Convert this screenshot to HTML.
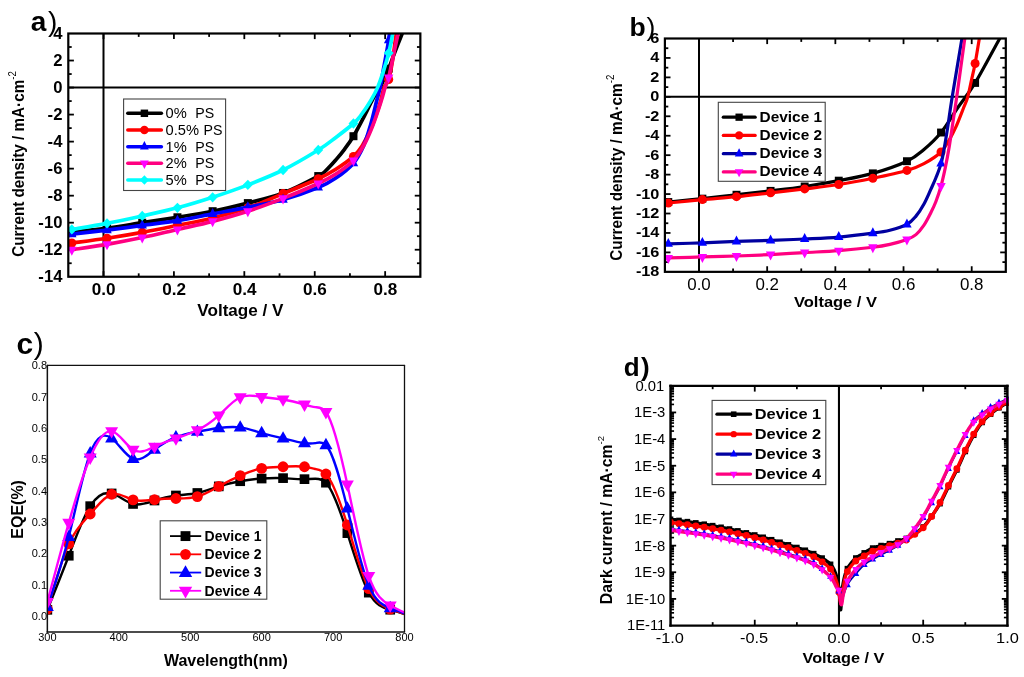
<!DOCTYPE html>
<html lang="en"><head><meta charset="utf-8"><title>Figure</title>
<style>html,body{margin:0;padding:0;background:#fff}body{width:1024px;height:677px;overflow:hidden}svg{display:block}text{font-family:"Liberation Sans",Arial,sans-serif}</style>
</head><body>
<svg width="1024" height="677" viewBox="0 0 1024 677" font-family='"Liberation Sans", Arial, sans-serif'>
<rect width="1024" height="677" fill="#fff"/>
<clipPath id="ca"><rect x="68.30" y="33.50" width="352.05" height="243.25"/></clipPath>
<line x1="103.50" y1="33.50" x2="103.50" y2="276.75" stroke="#000" stroke-width="2.0" stroke-linecap="butt"/>
<line x1="68.30" y1="87.56" x2="420.35" y2="87.56" stroke="#000" stroke-width="2.0" stroke-linecap="butt"/>
<line x1="103.50" y1="276.75" x2="103.50" y2="271.15" stroke="#000" stroke-width="1.8" stroke-linecap="butt"/>
<line x1="103.50" y1="33.50" x2="103.50" y2="39.10" stroke="#000" stroke-width="1.8" stroke-linecap="butt"/>
<line x1="138.71" y1="276.75" x2="138.71" y2="273.35" stroke="#000" stroke-width="1.8" stroke-linecap="butt"/>
<line x1="138.71" y1="33.50" x2="138.71" y2="36.90" stroke="#000" stroke-width="1.8" stroke-linecap="butt"/>
<line x1="173.92" y1="276.75" x2="173.92" y2="271.15" stroke="#000" stroke-width="1.8" stroke-linecap="butt"/>
<line x1="173.92" y1="33.50" x2="173.92" y2="39.10" stroke="#000" stroke-width="1.8" stroke-linecap="butt"/>
<line x1="209.12" y1="276.75" x2="209.12" y2="273.35" stroke="#000" stroke-width="1.8" stroke-linecap="butt"/>
<line x1="209.12" y1="33.50" x2="209.12" y2="36.90" stroke="#000" stroke-width="1.8" stroke-linecap="butt"/>
<line x1="244.32" y1="276.75" x2="244.32" y2="271.15" stroke="#000" stroke-width="1.8" stroke-linecap="butt"/>
<line x1="244.32" y1="33.50" x2="244.32" y2="39.10" stroke="#000" stroke-width="1.8" stroke-linecap="butt"/>
<line x1="279.53" y1="276.75" x2="279.53" y2="273.35" stroke="#000" stroke-width="1.8" stroke-linecap="butt"/>
<line x1="279.53" y1="33.50" x2="279.53" y2="36.90" stroke="#000" stroke-width="1.8" stroke-linecap="butt"/>
<line x1="314.74" y1="276.75" x2="314.74" y2="271.15" stroke="#000" stroke-width="1.8" stroke-linecap="butt"/>
<line x1="314.74" y1="33.50" x2="314.74" y2="39.10" stroke="#000" stroke-width="1.8" stroke-linecap="butt"/>
<line x1="349.94" y1="276.75" x2="349.94" y2="273.35" stroke="#000" stroke-width="1.8" stroke-linecap="butt"/>
<line x1="349.94" y1="33.50" x2="349.94" y2="36.90" stroke="#000" stroke-width="1.8" stroke-linecap="butt"/>
<line x1="385.15" y1="276.75" x2="385.15" y2="271.15" stroke="#000" stroke-width="1.8" stroke-linecap="butt"/>
<line x1="385.15" y1="33.50" x2="385.15" y2="39.10" stroke="#000" stroke-width="1.8" stroke-linecap="butt"/>
<line x1="68.30" y1="47.01" x2="71.70" y2="47.01" stroke="#000" stroke-width="1.8" stroke-linecap="butt"/>
<line x1="420.35" y1="47.01" x2="416.95" y2="47.01" stroke="#000" stroke-width="1.8" stroke-linecap="butt"/>
<line x1="68.30" y1="60.53" x2="73.90" y2="60.53" stroke="#000" stroke-width="1.8" stroke-linecap="butt"/>
<line x1="420.35" y1="60.53" x2="414.75" y2="60.53" stroke="#000" stroke-width="1.8" stroke-linecap="butt"/>
<line x1="68.30" y1="74.04" x2="71.70" y2="74.04" stroke="#000" stroke-width="1.8" stroke-linecap="butt"/>
<line x1="420.35" y1="74.04" x2="416.95" y2="74.04" stroke="#000" stroke-width="1.8" stroke-linecap="butt"/>
<line x1="68.30" y1="87.56" x2="73.90" y2="87.56" stroke="#000" stroke-width="1.8" stroke-linecap="butt"/>
<line x1="420.35" y1="87.56" x2="414.75" y2="87.56" stroke="#000" stroke-width="1.8" stroke-linecap="butt"/>
<line x1="68.30" y1="101.07" x2="71.70" y2="101.07" stroke="#000" stroke-width="1.8" stroke-linecap="butt"/>
<line x1="420.35" y1="101.07" x2="416.95" y2="101.07" stroke="#000" stroke-width="1.8" stroke-linecap="butt"/>
<line x1="68.30" y1="114.58" x2="73.90" y2="114.58" stroke="#000" stroke-width="1.8" stroke-linecap="butt"/>
<line x1="420.35" y1="114.58" x2="414.75" y2="114.58" stroke="#000" stroke-width="1.8" stroke-linecap="butt"/>
<line x1="68.30" y1="128.10" x2="71.70" y2="128.10" stroke="#000" stroke-width="1.8" stroke-linecap="butt"/>
<line x1="420.35" y1="128.10" x2="416.95" y2="128.10" stroke="#000" stroke-width="1.8" stroke-linecap="butt"/>
<line x1="68.30" y1="141.61" x2="73.90" y2="141.61" stroke="#000" stroke-width="1.8" stroke-linecap="butt"/>
<line x1="420.35" y1="141.61" x2="414.75" y2="141.61" stroke="#000" stroke-width="1.8" stroke-linecap="butt"/>
<line x1="68.30" y1="155.12" x2="71.70" y2="155.12" stroke="#000" stroke-width="1.8" stroke-linecap="butt"/>
<line x1="420.35" y1="155.12" x2="416.95" y2="155.12" stroke="#000" stroke-width="1.8" stroke-linecap="butt"/>
<line x1="68.30" y1="168.64" x2="73.90" y2="168.64" stroke="#000" stroke-width="1.8" stroke-linecap="butt"/>
<line x1="420.35" y1="168.64" x2="414.75" y2="168.64" stroke="#000" stroke-width="1.8" stroke-linecap="butt"/>
<line x1="68.30" y1="182.15" x2="71.70" y2="182.15" stroke="#000" stroke-width="1.8" stroke-linecap="butt"/>
<line x1="420.35" y1="182.15" x2="416.95" y2="182.15" stroke="#000" stroke-width="1.8" stroke-linecap="butt"/>
<line x1="68.30" y1="195.67" x2="73.90" y2="195.67" stroke="#000" stroke-width="1.8" stroke-linecap="butt"/>
<line x1="420.35" y1="195.67" x2="414.75" y2="195.67" stroke="#000" stroke-width="1.8" stroke-linecap="butt"/>
<line x1="68.30" y1="209.18" x2="71.70" y2="209.18" stroke="#000" stroke-width="1.8" stroke-linecap="butt"/>
<line x1="420.35" y1="209.18" x2="416.95" y2="209.18" stroke="#000" stroke-width="1.8" stroke-linecap="butt"/>
<line x1="68.30" y1="222.69" x2="73.90" y2="222.69" stroke="#000" stroke-width="1.8" stroke-linecap="butt"/>
<line x1="420.35" y1="222.69" x2="414.75" y2="222.69" stroke="#000" stroke-width="1.8" stroke-linecap="butt"/>
<line x1="68.30" y1="236.21" x2="71.70" y2="236.21" stroke="#000" stroke-width="1.8" stroke-linecap="butt"/>
<line x1="420.35" y1="236.21" x2="416.95" y2="236.21" stroke="#000" stroke-width="1.8" stroke-linecap="butt"/>
<line x1="68.30" y1="249.72" x2="73.90" y2="249.72" stroke="#000" stroke-width="1.8" stroke-linecap="butt"/>
<line x1="420.35" y1="249.72" x2="414.75" y2="249.72" stroke="#000" stroke-width="1.8" stroke-linecap="butt"/>
<line x1="68.30" y1="263.24" x2="71.70" y2="263.24" stroke="#000" stroke-width="1.8" stroke-linecap="butt"/>
<line x1="420.35" y1="263.24" x2="416.95" y2="263.24" stroke="#000" stroke-width="1.8" stroke-linecap="butt"/>
<g clip-path="url(#ca)">
<path d="M71.82,232.15 C77.69,231.48 95.29,229.68 107.03,228.10 C118.76,226.52 130.50,224.50 142.23,222.69 C153.97,220.89 165.70,219.20 177.44,217.29 C189.17,215.37 200.91,213.57 212.64,211.21 C224.38,208.84 236.11,206.14 247.85,203.10 C259.58,200.06 271.32,197.47 283.05,192.96 C294.79,188.46 310.92,180.01 318.26,176.07 C325.59,172.13 324.12,172.02 327.06,169.31 C329.99,166.61 332.92,163.23 335.86,159.85 C338.79,156.48 341.73,152.99 344.66,149.04 C347.59,145.10 350.29,141.50 353.46,136.21 C356.63,130.91 360.38,123.59 363.67,117.29 C366.96,110.98 370.42,103.39 373.18,98.37 C375.93,93.34 377.63,92.11 380.22,87.15 C382.80,82.20 386.32,74.24 388.67,68.64 C391.01,63.03 392.13,59.15 394.30,53.50 C396.47,47.85 399.70,39.85 401.69,34.72 C403.69,29.58 405.51,24.69 406.27,22.69" fill="none" stroke="#000000" stroke-width="3.7" stroke-linejoin="round" stroke-linecap="round"/>
<rect x="67.82" y="228.16" width="8.00" height="8.00" fill="#000000"/>
<rect x="103.03" y="224.10" width="8.00" height="8.00" fill="#000000"/>
<rect x="138.23" y="218.70" width="8.00" height="8.00" fill="#000000"/>
<rect x="173.44" y="213.29" width="8.00" height="8.00" fill="#000000"/>
<rect x="208.64" y="207.21" width="8.00" height="8.00" fill="#000000"/>
<rect x="243.85" y="199.10" width="8.00" height="8.00" fill="#000000"/>
<rect x="279.05" y="188.96" width="8.00" height="8.00" fill="#000000"/>
<rect x="314.26" y="172.07" width="8.00" height="8.00" fill="#000000"/>
<rect x="349.46" y="132.21" width="8.00" height="8.00" fill="#000000"/>
<rect x="384.67" y="64.64" width="8.00" height="8.00" fill="#000000"/>
<path d="M71.82,242.97 C77.69,242.18 95.29,239.99 107.03,238.24 C118.76,236.48 130.50,234.56 142.23,232.42 C153.97,230.28 165.70,227.81 177.44,225.40 C189.17,222.99 200.91,220.89 212.64,217.96 C224.38,215.04 236.11,211.88 247.85,207.83 C259.58,203.78 271.32,198.48 283.05,193.64 C294.79,188.80 309.45,182.83 318.26,178.77 C327.06,174.72 329.99,173.03 335.86,169.31 C341.73,165.60 349.06,160.42 353.46,156.48 C357.86,152.53 359.21,150.62 362.26,145.67 C365.31,140.71 368.83,133.73 371.77,126.75 C374.70,119.76 377.81,110.30 379.86,103.77 C381.92,97.24 382.62,91.61 384.09,87.56 C385.56,83.50 387.26,83.95 388.67,79.45 C390.07,74.94 391.31,67.98 392.54,60.53 C393.77,53.07 395.18,41.02 396.06,34.72 C396.94,28.41 397.53,24.69 397.82,22.69" fill="none" stroke="#ff0000" stroke-width="3.7" stroke-linejoin="round" stroke-linecap="round"/>
<circle cx="71.82" cy="242.97" r="4.56" fill="#ff0000"/>
<circle cx="107.03" cy="238.24" r="4.56" fill="#ff0000"/>
<circle cx="142.23" cy="232.42" r="4.56" fill="#ff0000"/>
<circle cx="177.44" cy="225.40" r="4.56" fill="#ff0000"/>
<circle cx="212.64" cy="217.96" r="4.56" fill="#ff0000"/>
<circle cx="247.85" cy="207.83" r="4.56" fill="#ff0000"/>
<circle cx="283.05" cy="193.64" r="4.56" fill="#ff0000"/>
<circle cx="318.26" cy="178.77" r="4.56" fill="#ff0000"/>
<circle cx="353.46" cy="156.48" r="4.56" fill="#ff0000"/>
<circle cx="388.67" cy="79.45" r="4.56" fill="#ff0000"/>
<path d="M71.82,234.18 C77.69,233.51 95.29,231.59 107.03,230.13 C118.76,228.66 130.50,226.97 142.23,225.40 C153.97,223.82 165.70,222.58 177.44,220.67 C189.17,218.75 200.91,216.16 212.64,213.91 C224.38,211.66 236.11,209.52 247.85,207.15 C259.58,204.79 271.32,202.99 283.05,199.72 C294.79,196.45 309.45,191.16 318.26,187.56 C327.06,183.95 329.99,182.15 335.86,178.10 C341.73,174.04 348.83,168.64 353.46,163.23 C358.10,157.83 360.79,152.13 363.67,145.67 C366.55,139.20 368.54,131.93 370.71,124.45 C372.88,116.97 375.11,107.02 376.70,100.80 C378.28,94.58 379.04,92.67 380.22,87.15 C381.39,81.63 382.33,75.51 383.74,67.69 C385.14,59.87 387.55,47.76 388.67,40.26 C389.78,32.76 390.13,25.62 390.43,22.69" fill="none" stroke="#0000ff" stroke-width="3.7" stroke-linejoin="round" stroke-linecap="round"/>
<path d="M71.82,228.16 L76.55,237.19 L67.09,237.19Z" fill="#0000ff"/>
<path d="M107.03,224.11 L111.76,233.14 L102.30,233.14Z" fill="#0000ff"/>
<path d="M142.23,219.38 L146.96,228.41 L137.50,228.41Z" fill="#0000ff"/>
<path d="M177.44,214.65 L182.17,223.68 L172.71,223.68Z" fill="#0000ff"/>
<path d="M212.64,207.89 L217.37,216.92 L207.91,216.92Z" fill="#0000ff"/>
<path d="M247.85,201.13 L252.58,210.16 L243.12,210.16Z" fill="#0000ff"/>
<path d="M283.05,193.70 L287.78,202.73 L278.32,202.73Z" fill="#0000ff"/>
<path d="M318.26,181.54 L322.99,190.57 L313.53,190.57Z" fill="#0000ff"/>
<path d="M353.46,157.21 L358.19,166.24 L348.73,166.24Z" fill="#0000ff"/>
<path d="M388.67,34.24 L393.40,43.27 L383.94,43.27Z" fill="#0000ff"/>
<path d="M71.82,249.72 C77.69,248.82 95.29,246.34 107.03,244.32 C118.76,242.29 130.50,240.04 142.23,237.56 C153.97,235.08 165.70,232.15 177.44,229.45 C189.17,226.75 200.91,224.38 212.64,221.34 C224.38,218.30 236.11,215.04 247.85,211.21 C259.58,207.38 271.32,202.99 283.05,198.37 C294.79,193.75 309.45,187.56 318.26,183.50 C327.06,179.45 329.99,177.87 335.86,174.04 C341.73,170.22 348.83,165.26 353.46,160.53 C358.10,155.80 360.38,151.68 363.67,145.67 C366.96,139.65 370.24,131.93 373.18,124.45 C376.11,116.97 379.28,107.02 381.27,100.80 C383.27,94.58 383.91,91.05 385.15,87.15 C386.38,83.25 387.14,83.41 388.67,77.42 C390.19,71.43 392.77,58.32 394.30,51.20 C395.82,44.09 396.82,39.47 397.82,34.72 C398.82,29.96 399.87,24.69 400.28,22.69" fill="none" stroke="#ff0080" stroke-width="3.7" stroke-linejoin="round" stroke-linecap="round"/>
<path d="M71.82,255.74 L76.55,246.71 L67.09,246.71Z" fill="#ff00ff"/>
<path d="M107.03,250.34 L111.76,241.31 L102.30,241.31Z" fill="#ff00ff"/>
<path d="M142.23,243.58 L146.96,234.55 L137.50,234.55Z" fill="#ff00ff"/>
<path d="M177.44,235.47 L182.17,226.44 L172.71,226.44Z" fill="#ff00ff"/>
<path d="M212.64,227.36 L217.37,218.33 L207.91,218.33Z" fill="#ff00ff"/>
<path d="M247.85,217.23 L252.58,208.20 L243.12,208.20Z" fill="#ff00ff"/>
<path d="M283.05,204.39 L287.78,195.36 L278.32,195.36Z" fill="#ff00ff"/>
<path d="M318.26,189.52 L322.99,180.49 L313.53,180.49Z" fill="#ff00ff"/>
<path d="M353.46,166.55 L358.19,157.52 L348.73,157.52Z" fill="#ff00ff"/>
<path d="M388.67,83.44 L393.40,74.41 L383.94,74.41Z" fill="#ff00ff"/>
<path d="M71.82,229.45 C77.69,228.44 95.29,225.62 107.03,223.37 C118.76,221.12 130.50,218.53 142.23,215.94 C153.97,213.35 165.70,210.94 177.44,207.83 C189.17,204.72 200.91,201.12 212.64,197.29 C224.38,193.46 236.11,189.41 247.85,184.86 C259.58,180.31 271.32,175.80 283.05,169.99 C294.79,164.18 309.45,155.42 318.26,149.99 C327.06,144.56 329.99,141.84 335.86,137.42 C341.73,133.01 349.24,127.24 353.46,123.50 C357.69,119.76 358.33,118.77 361.21,114.99 C364.08,111.20 367.95,105.44 370.71,100.80 C373.47,96.16 375.58,92.26 377.75,87.15 C379.92,82.04 381.92,75.80 383.74,70.12 C385.56,64.45 387.20,59.00 388.67,53.10 C390.13,47.19 391.60,39.78 392.54,34.72 C393.48,29.65 394.00,24.69 394.30,22.69" fill="none" stroke="#00ffff" stroke-width="3.7" stroke-linejoin="round" stroke-linecap="round"/>
<path d="M71.82,224.29 L76.77,229.45 L71.82,234.61 L66.88,229.45Z" fill="#00ffff"/>
<path d="M107.03,218.21 L111.97,223.37 L107.03,228.53 L102.08,223.37Z" fill="#00ffff"/>
<path d="M142.23,210.78 L147.18,215.94 L142.23,221.10 L137.29,215.94Z" fill="#00ffff"/>
<path d="M177.44,202.67 L182.38,207.83 L177.44,212.99 L172.49,207.83Z" fill="#00ffff"/>
<path d="M212.64,192.13 L217.59,197.29 L212.64,202.45 L207.70,197.29Z" fill="#00ffff"/>
<path d="M247.85,179.70 L252.79,184.86 L247.85,190.02 L242.90,184.86Z" fill="#00ffff"/>
<path d="M283.05,164.83 L288.00,169.99 L283.05,175.15 L278.11,169.99Z" fill="#00ffff"/>
<path d="M318.26,144.83 L323.20,149.99 L318.26,155.15 L313.31,149.99Z" fill="#00ffff"/>
<path d="M353.46,118.34 L358.41,123.50 L353.46,128.66 L348.52,123.50Z" fill="#00ffff"/>
<path d="M388.67,47.94 L393.61,53.10 L388.67,58.26 L383.72,53.10Z" fill="#00ffff"/>
</g>
<rect x="68.3" y="33.5" width="352.05" height="243.25" fill="none" stroke="#000" stroke-width="2.2"/>
<text transform="translate(62.40,38.70) scale(1.040,1.000)" font-size="16" font-weight="bold" text-anchor="end" fill="#000">4</text>
<text transform="translate(62.40,65.73) scale(1.040,1.000)" font-size="16" font-weight="bold" text-anchor="end" fill="#000">2</text>
<text transform="translate(62.40,92.76) scale(1.040,1.000)" font-size="16" font-weight="bold" text-anchor="end" fill="#000">0</text>
<text transform="translate(62.40,119.78) scale(1.040,1.000)" font-size="16" font-weight="bold" text-anchor="end" fill="#000">-2</text>
<text transform="translate(62.40,146.81) scale(1.040,1.000)" font-size="16" font-weight="bold" text-anchor="end" fill="#000">-4</text>
<text transform="translate(62.40,173.84) scale(1.040,1.000)" font-size="16" font-weight="bold" text-anchor="end" fill="#000">-6</text>
<text transform="translate(62.40,200.87) scale(1.040,1.000)" font-size="16" font-weight="bold" text-anchor="end" fill="#000">-8</text>
<text transform="translate(62.40,227.89) scale(1.040,1.000)" font-size="16" font-weight="bold" text-anchor="end" fill="#000">-10</text>
<text transform="translate(62.40,254.92) scale(1.040,1.000)" font-size="16" font-weight="bold" text-anchor="end" fill="#000">-12</text>
<text transform="translate(62.40,281.95) scale(1.040,1.000)" font-size="16" font-weight="bold" text-anchor="end" fill="#000">-14</text>
<text transform="translate(103.70,294.60) scale(1.070,1.000)" font-size="16" font-weight="bold" text-anchor="middle" fill="#000">0.0</text>
<text transform="translate(174.12,294.60) scale(1.070,1.000)" font-size="16" font-weight="bold" text-anchor="middle" fill="#000">0.2</text>
<text transform="translate(244.52,294.60) scale(1.070,1.000)" font-size="16" font-weight="bold" text-anchor="middle" fill="#000">0.4</text>
<text transform="translate(314.94,294.60) scale(1.070,1.000)" font-size="16" font-weight="bold" text-anchor="middle" fill="#000">0.6</text>
<text transform="translate(385.35,294.60) scale(1.070,1.000)" font-size="16" font-weight="bold" text-anchor="middle" fill="#000">0.8</text>
<text transform="translate(240.40,315.80) scale(1.070,1.000)" font-size="16" font-weight="bold" text-anchor="middle" fill="#000">Voltage / V</text>
<text transform="translate(24.30,164.00) rotate(-90) scale(1.017,1.070)" font-size="15" font-weight="bold" text-anchor="middle" fill="#000">Current density / mA·cm<tspan font-size="9.5" font-weight="normal" dy="-7.6">-2</tspan></text>
<text transform="translate(30.80,30.60)" font-size="28" font-weight="bold" text-anchor="start" fill="#000">a<tspan font-weight="normal" dx="1.5">)</tspan></text>
<rect x="123.6" y="99" width="102" height="91.5" fill="#fff" stroke="#444" stroke-width="1.1"/>
<line x1="127.80" y1="113.30" x2="161.40" y2="113.30" stroke="#000000" stroke-width="3.5" stroke-linecap="round"/>
<rect x="140.68" y="109.58" width="7.44" height="7.44" fill="#000000"/>
<text transform="translate(165.60,118.20) scale(1.035,1.000)" font-size="14.2" text-anchor="start" fill="#000">0%</text>
<text transform="translate(195.20,118.20)" font-size="14.2" text-anchor="start" fill="#000">PS</text>
<line x1="127.80" y1="129.98" x2="161.40" y2="129.98" stroke="#ff0000" stroke-width="3.5" stroke-linecap="round"/>
<circle cx="144.40" cy="129.98" r="4.24" fill="#ff0000"/>
<text transform="translate(165.60,134.88) scale(1.035,1.000)" font-size="14.2" text-anchor="start" fill="#000">0.5%</text>
<text transform="translate(203.60,134.88)" font-size="14.2" text-anchor="start" fill="#000">PS</text>
<line x1="127.80" y1="146.66" x2="161.40" y2="146.66" stroke="#0000ff" stroke-width="3.5" stroke-linecap="round"/>
<path d="M144.40,141.06 L148.80,149.46 L140.00,149.46Z" fill="#0000ff"/>
<text transform="translate(165.60,151.56) scale(1.035,1.000)" font-size="14.2" text-anchor="start" fill="#000">1%</text>
<text transform="translate(195.20,151.56)" font-size="14.2" text-anchor="start" fill="#000">PS</text>
<line x1="127.80" y1="163.34" x2="161.40" y2="163.34" stroke="#ff0080" stroke-width="3.5" stroke-linecap="round"/>
<path d="M144.40,168.94 L148.80,160.54 L140.00,160.54Z" fill="#ff00ff"/>
<text transform="translate(165.60,168.24) scale(1.035,1.000)" font-size="14.2" text-anchor="start" fill="#000">2%</text>
<text transform="translate(195.20,168.24)" font-size="14.2" text-anchor="start" fill="#000">PS</text>
<line x1="127.80" y1="180.02" x2="161.40" y2="180.02" stroke="#00ffff" stroke-width="3.5" stroke-linecap="round"/>
<path d="M144.40,175.22 L149.00,180.02 L144.40,184.82 L139.80,180.02Z" fill="#00ffff"/>
<text transform="translate(165.60,184.92) scale(1.035,1.000)" font-size="14.2" text-anchor="start" fill="#000">5%</text>
<text transform="translate(195.20,184.92)" font-size="14.2" text-anchor="start" fill="#000">PS</text>
<clipPath id="cb"><rect x="664.90" y="38.50" width="340.90" height="233.35"/></clipPath>
<line x1="698.99" y1="38.50" x2="698.99" y2="271.85" stroke="#000" stroke-width="2.0" stroke-linecap="butt"/>
<line x1="664.90" y1="96.84" x2="1005.80" y2="96.84" stroke="#000" stroke-width="2.0" stroke-linecap="butt"/>
<line x1="698.99" y1="271.85" x2="698.99" y2="266.25" stroke="#000" stroke-width="1.8" stroke-linecap="butt"/>
<line x1="698.99" y1="38.50" x2="698.99" y2="44.10" stroke="#000" stroke-width="1.8" stroke-linecap="butt"/>
<line x1="733.08" y1="271.85" x2="733.08" y2="268.45" stroke="#000" stroke-width="1.8" stroke-linecap="butt"/>
<line x1="733.08" y1="38.50" x2="733.08" y2="41.90" stroke="#000" stroke-width="1.8" stroke-linecap="butt"/>
<line x1="767.17" y1="271.85" x2="767.17" y2="266.25" stroke="#000" stroke-width="1.8" stroke-linecap="butt"/>
<line x1="767.17" y1="38.50" x2="767.17" y2="44.10" stroke="#000" stroke-width="1.8" stroke-linecap="butt"/>
<line x1="801.26" y1="271.85" x2="801.26" y2="268.45" stroke="#000" stroke-width="1.8" stroke-linecap="butt"/>
<line x1="801.26" y1="38.50" x2="801.26" y2="41.90" stroke="#000" stroke-width="1.8" stroke-linecap="butt"/>
<line x1="835.35" y1="271.85" x2="835.35" y2="266.25" stroke="#000" stroke-width="1.8" stroke-linecap="butt"/>
<line x1="835.35" y1="38.50" x2="835.35" y2="44.10" stroke="#000" stroke-width="1.8" stroke-linecap="butt"/>
<line x1="869.44" y1="271.85" x2="869.44" y2="268.45" stroke="#000" stroke-width="1.8" stroke-linecap="butt"/>
<line x1="869.44" y1="38.50" x2="869.44" y2="41.90" stroke="#000" stroke-width="1.8" stroke-linecap="butt"/>
<line x1="903.53" y1="271.85" x2="903.53" y2="266.25" stroke="#000" stroke-width="1.8" stroke-linecap="butt"/>
<line x1="903.53" y1="38.50" x2="903.53" y2="44.10" stroke="#000" stroke-width="1.8" stroke-linecap="butt"/>
<line x1="937.62" y1="271.85" x2="937.62" y2="268.45" stroke="#000" stroke-width="1.8" stroke-linecap="butt"/>
<line x1="937.62" y1="38.50" x2="937.62" y2="41.90" stroke="#000" stroke-width="1.8" stroke-linecap="butt"/>
<line x1="971.71" y1="271.85" x2="971.71" y2="266.25" stroke="#000" stroke-width="1.8" stroke-linecap="butt"/>
<line x1="971.71" y1="38.50" x2="971.71" y2="44.10" stroke="#000" stroke-width="1.8" stroke-linecap="butt"/>
<line x1="664.90" y1="48.22" x2="668.30" y2="48.22" stroke="#000" stroke-width="1.8" stroke-linecap="butt"/>
<line x1="1005.80" y1="48.22" x2="1002.40" y2="48.22" stroke="#000" stroke-width="1.8" stroke-linecap="butt"/>
<line x1="664.90" y1="57.95" x2="670.50" y2="57.95" stroke="#000" stroke-width="1.8" stroke-linecap="butt"/>
<line x1="1005.80" y1="57.95" x2="1000.20" y2="57.95" stroke="#000" stroke-width="1.8" stroke-linecap="butt"/>
<line x1="664.90" y1="67.67" x2="668.30" y2="67.67" stroke="#000" stroke-width="1.8" stroke-linecap="butt"/>
<line x1="1005.80" y1="67.67" x2="1002.40" y2="67.67" stroke="#000" stroke-width="1.8" stroke-linecap="butt"/>
<line x1="664.90" y1="77.39" x2="670.50" y2="77.39" stroke="#000" stroke-width="1.8" stroke-linecap="butt"/>
<line x1="1005.80" y1="77.39" x2="1000.20" y2="77.39" stroke="#000" stroke-width="1.8" stroke-linecap="butt"/>
<line x1="664.90" y1="87.11" x2="668.30" y2="87.11" stroke="#000" stroke-width="1.8" stroke-linecap="butt"/>
<line x1="1005.80" y1="87.11" x2="1002.40" y2="87.11" stroke="#000" stroke-width="1.8" stroke-linecap="butt"/>
<line x1="664.90" y1="96.84" x2="670.50" y2="96.84" stroke="#000" stroke-width="1.8" stroke-linecap="butt"/>
<line x1="1005.80" y1="96.84" x2="1000.20" y2="96.84" stroke="#000" stroke-width="1.8" stroke-linecap="butt"/>
<line x1="664.90" y1="106.56" x2="668.30" y2="106.56" stroke="#000" stroke-width="1.8" stroke-linecap="butt"/>
<line x1="1005.80" y1="106.56" x2="1002.40" y2="106.56" stroke="#000" stroke-width="1.8" stroke-linecap="butt"/>
<line x1="664.90" y1="116.28" x2="670.50" y2="116.28" stroke="#000" stroke-width="1.8" stroke-linecap="butt"/>
<line x1="1005.80" y1="116.28" x2="1000.20" y2="116.28" stroke="#000" stroke-width="1.8" stroke-linecap="butt"/>
<line x1="664.90" y1="126.01" x2="668.30" y2="126.01" stroke="#000" stroke-width="1.8" stroke-linecap="butt"/>
<line x1="1005.80" y1="126.01" x2="1002.40" y2="126.01" stroke="#000" stroke-width="1.8" stroke-linecap="butt"/>
<line x1="664.90" y1="135.73" x2="670.50" y2="135.73" stroke="#000" stroke-width="1.8" stroke-linecap="butt"/>
<line x1="1005.80" y1="135.73" x2="1000.20" y2="135.73" stroke="#000" stroke-width="1.8" stroke-linecap="butt"/>
<line x1="664.90" y1="145.45" x2="668.30" y2="145.45" stroke="#000" stroke-width="1.8" stroke-linecap="butt"/>
<line x1="1005.80" y1="145.45" x2="1002.40" y2="145.45" stroke="#000" stroke-width="1.8" stroke-linecap="butt"/>
<line x1="664.90" y1="155.18" x2="670.50" y2="155.18" stroke="#000" stroke-width="1.8" stroke-linecap="butt"/>
<line x1="1005.80" y1="155.18" x2="1000.20" y2="155.18" stroke="#000" stroke-width="1.8" stroke-linecap="butt"/>
<line x1="664.90" y1="164.90" x2="668.30" y2="164.90" stroke="#000" stroke-width="1.8" stroke-linecap="butt"/>
<line x1="1005.80" y1="164.90" x2="1002.40" y2="164.90" stroke="#000" stroke-width="1.8" stroke-linecap="butt"/>
<line x1="664.90" y1="174.62" x2="670.50" y2="174.62" stroke="#000" stroke-width="1.8" stroke-linecap="butt"/>
<line x1="1005.80" y1="174.62" x2="1000.20" y2="174.62" stroke="#000" stroke-width="1.8" stroke-linecap="butt"/>
<line x1="664.90" y1="184.34" x2="668.30" y2="184.34" stroke="#000" stroke-width="1.8" stroke-linecap="butt"/>
<line x1="1005.80" y1="184.34" x2="1002.40" y2="184.34" stroke="#000" stroke-width="1.8" stroke-linecap="butt"/>
<line x1="664.90" y1="194.07" x2="670.50" y2="194.07" stroke="#000" stroke-width="1.8" stroke-linecap="butt"/>
<line x1="1005.80" y1="194.07" x2="1000.20" y2="194.07" stroke="#000" stroke-width="1.8" stroke-linecap="butt"/>
<line x1="664.90" y1="203.79" x2="668.30" y2="203.79" stroke="#000" stroke-width="1.8" stroke-linecap="butt"/>
<line x1="1005.80" y1="203.79" x2="1002.40" y2="203.79" stroke="#000" stroke-width="1.8" stroke-linecap="butt"/>
<line x1="664.90" y1="213.51" x2="670.50" y2="213.51" stroke="#000" stroke-width="1.8" stroke-linecap="butt"/>
<line x1="1005.80" y1="213.51" x2="1000.20" y2="213.51" stroke="#000" stroke-width="1.8" stroke-linecap="butt"/>
<line x1="664.90" y1="223.24" x2="668.30" y2="223.24" stroke="#000" stroke-width="1.8" stroke-linecap="butt"/>
<line x1="1005.80" y1="223.24" x2="1002.40" y2="223.24" stroke="#000" stroke-width="1.8" stroke-linecap="butt"/>
<line x1="664.90" y1="232.96" x2="670.50" y2="232.96" stroke="#000" stroke-width="1.8" stroke-linecap="butt"/>
<line x1="1005.80" y1="232.96" x2="1000.20" y2="232.96" stroke="#000" stroke-width="1.8" stroke-linecap="butt"/>
<line x1="664.90" y1="242.68" x2="668.30" y2="242.68" stroke="#000" stroke-width="1.8" stroke-linecap="butt"/>
<line x1="1005.80" y1="242.68" x2="1002.40" y2="242.68" stroke="#000" stroke-width="1.8" stroke-linecap="butt"/>
<line x1="664.90" y1="252.40" x2="670.50" y2="252.40" stroke="#000" stroke-width="1.8" stroke-linecap="butt"/>
<line x1="1005.80" y1="252.40" x2="1000.20" y2="252.40" stroke="#000" stroke-width="1.8" stroke-linecap="butt"/>
<line x1="664.90" y1="262.13" x2="668.30" y2="262.13" stroke="#000" stroke-width="1.8" stroke-linecap="butt"/>
<line x1="1005.80" y1="262.13" x2="1002.40" y2="262.13" stroke="#000" stroke-width="1.8" stroke-linecap="butt"/>
<g clip-path="url(#cb)">
<path d="M668.31,202.04 C673.99,201.47 691.04,199.85 702.40,198.64 C713.76,197.42 725.13,196.04 736.49,194.75 C747.85,193.45 759.22,192.24 770.58,190.86 C781.94,189.48 793.31,188.18 804.67,186.48 C816.03,184.78 827.40,182.84 838.76,180.65 C850.12,178.46 861.49,176.60 872.85,173.36 C884.21,170.12 898.42,165.17 906.94,161.20 C915.46,157.23 918.30,154.32 923.98,149.54 C929.67,144.76 935.35,139.57 941.03,132.52 C946.71,125.47 952.39,115.51 958.07,107.24 C963.76,98.98 968.24,94.28 975.12,82.93 C981.99,71.59 994.21,48.26 999.32,39.18 C1004.44,30.11 1004.72,30.27 1005.80,28.49" fill="none" stroke="#000000" stroke-width="3.2" stroke-linejoin="round" stroke-linecap="round"/>
<rect x="664.36" y="198.09" width="7.91" height="7.91" fill="#000000"/>
<rect x="698.45" y="194.68" width="7.91" height="7.91" fill="#000000"/>
<rect x="732.54" y="190.79" width="7.91" height="7.91" fill="#000000"/>
<rect x="766.63" y="186.91" width="7.91" height="7.91" fill="#000000"/>
<rect x="800.72" y="182.53" width="7.91" height="7.91" fill="#000000"/>
<rect x="834.81" y="176.70" width="7.91" height="7.91" fill="#000000"/>
<rect x="868.90" y="169.40" width="7.91" height="7.91" fill="#000000"/>
<rect x="902.99" y="157.25" width="7.91" height="7.91" fill="#000000"/>
<rect x="937.08" y="128.57" width="7.91" height="7.91" fill="#000000"/>
<rect x="971.17" y="78.98" width="7.91" height="7.91" fill="#000000"/>
<path d="M668.31,203.01 C673.99,202.44 691.04,200.66 702.40,199.61 C713.76,198.56 725.13,197.83 736.49,196.69 C747.85,195.56 759.22,194.10 770.58,192.80 C781.94,191.51 793.31,190.29 804.67,188.91 C816.03,187.54 827.40,186.32 838.76,184.54 C850.12,182.76 861.49,180.57 872.85,178.22 C884.21,175.87 898.42,172.87 906.94,170.44 C915.46,168.01 918.30,166.71 923.98,163.63 C929.67,160.56 936.77,156.02 941.03,151.97 C945.29,147.92 947.05,143.54 949.55,139.33 C952.05,135.11 953.67,131.99 956.03,126.69 C958.39,121.39 961.78,112.39 963.70,107.53 C965.62,102.67 966.27,102.01 967.55,97.52 C968.83,93.03 970.11,86.27 971.37,80.60 C972.63,74.93 973.81,70.39 975.12,63.49 C976.43,56.58 978.19,45.18 979.21,39.18 C980.23,33.18 980.91,29.46 981.26,27.51" fill="none" stroke="#ff0000" stroke-width="3.2" stroke-linejoin="round" stroke-linecap="round"/>
<circle cx="668.31" cy="203.01" r="4.50" fill="#ff0000"/>
<circle cx="702.40" cy="199.61" r="4.50" fill="#ff0000"/>
<circle cx="736.49" cy="196.69" r="4.50" fill="#ff0000"/>
<circle cx="770.58" cy="192.80" r="4.50" fill="#ff0000"/>
<circle cx="804.67" cy="188.91" r="4.50" fill="#ff0000"/>
<circle cx="838.76" cy="184.54" r="4.50" fill="#ff0000"/>
<circle cx="872.85" cy="178.22" r="4.50" fill="#ff0000"/>
<circle cx="906.94" cy="170.44" r="4.50" fill="#ff0000"/>
<circle cx="941.03" cy="151.97" r="4.50" fill="#ff0000"/>
<circle cx="975.12" cy="63.49" r="4.50" fill="#ff0000"/>
<path d="M668.31,243.85 C673.99,243.69 691.04,243.28 702.40,242.88 C713.76,242.47 725.13,241.82 736.49,241.42 C747.85,241.01 759.22,240.85 770.58,240.44 C781.94,240.04 793.31,239.55 804.67,238.99 C816.03,238.42 827.40,238.01 838.76,237.04 C850.12,236.07 864.33,234.29 872.85,233.15 C881.37,232.02 884.21,231.69 889.89,230.24 C895.58,228.78 902.59,226.75 906.94,224.40 C911.29,222.05 913.13,219.54 915.97,216.14 C918.81,212.73 921.51,208.44 923.98,203.98 C926.46,199.53 928.81,193.77 930.80,189.40 C932.79,185.02 934.21,182.03 935.92,177.73 C937.62,173.44 939.61,168.74 941.03,163.63 C942.45,158.53 943.29,153.42 944.44,147.10 C945.59,140.79 946.64,133.98 947.92,125.71 C949.19,117.45 949.79,111.94 952.11,97.52 C954.43,83.10 959.92,50.85 961.82,39.18 C963.73,27.51 963.24,29.46 963.53,27.51" fill="none" stroke="#0000a0" stroke-width="3.2" stroke-linejoin="round" stroke-linecap="round"/>
<path d="M668.31,237.90 L672.98,246.82 L663.63,246.82Z" fill="#0000ff"/>
<path d="M702.40,236.93 L707.07,245.85 L697.72,245.85Z" fill="#0000ff"/>
<path d="M736.49,235.47 L741.16,244.39 L731.81,244.39Z" fill="#0000ff"/>
<path d="M770.58,234.49 L775.25,243.42 L765.90,243.42Z" fill="#0000ff"/>
<path d="M804.67,233.04 L809.34,241.96 L799.99,241.96Z" fill="#0000ff"/>
<path d="M838.76,231.09 L843.43,240.02 L834.08,240.02Z" fill="#0000ff"/>
<path d="M872.85,227.20 L877.52,236.13 L868.17,236.13Z" fill="#0000ff"/>
<path d="M906.94,218.45 L911.61,227.38 L902.26,227.38Z" fill="#0000ff"/>
<path d="M941.03,157.68 L945.70,166.61 L936.35,166.61Z" fill="#0000ff"/>
<path d="M668.31,257.95 C673.99,257.78 691.04,257.30 702.40,256.97 C713.76,256.65 725.13,256.41 736.49,256.00 C747.85,255.60 759.22,255.11 770.58,254.54 C781.94,253.98 793.31,253.25 804.67,252.60 C816.03,251.95 827.40,251.55 838.76,250.65 C850.12,249.76 864.33,248.30 872.85,247.25 C881.37,246.20 884.21,245.63 889.89,244.33 C895.58,243.04 902.59,241.09 906.94,239.47 C911.29,237.85 913.13,236.99 915.97,234.61 C918.81,232.23 921.51,228.81 923.98,225.18 C926.46,221.55 928.81,216.77 930.80,212.83 C932.79,208.89 934.21,206.03 935.92,201.55 C937.62,197.08 939.47,191.60 941.03,186.00 C942.59,180.39 943.89,174.47 945.26,167.91 C946.63,161.35 947.91,154.61 949.24,146.62 C950.58,138.63 952.01,128.32 953.27,119.98 C954.52,111.63 954.88,110.01 956.78,96.55 C958.68,83.08 963.11,50.69 964.69,39.18 C966.27,27.68 965.99,29.46 966.26,27.51" fill="none" stroke="#ff0080" stroke-width="3.2" stroke-linejoin="round" stroke-linecap="round"/>
<path d="M668.31,263.90 L672.98,254.97 L663.63,254.97Z" fill="#ff00ff"/>
<path d="M702.40,262.92 L707.07,254.00 L697.72,254.00Z" fill="#ff00ff"/>
<path d="M736.49,261.95 L741.16,253.03 L731.81,253.03Z" fill="#ff00ff"/>
<path d="M770.58,260.49 L775.25,251.57 L765.90,251.57Z" fill="#ff00ff"/>
<path d="M804.67,258.55 L809.34,249.62 L799.99,249.62Z" fill="#ff00ff"/>
<path d="M838.76,256.60 L843.43,247.68 L834.08,247.68Z" fill="#ff00ff"/>
<path d="M872.85,253.20 L877.52,244.28 L868.17,244.28Z" fill="#ff00ff"/>
<path d="M906.94,245.42 L911.61,236.50 L902.26,236.50Z" fill="#ff00ff"/>
<path d="M941.03,191.95 L945.70,183.02 L936.35,183.02Z" fill="#ff00ff"/>
</g>
<rect x="664.9" y="38.5" width="340.90" height="233.35" fill="none" stroke="#000" stroke-width="2.2"/>
<text transform="translate(659.40,43.00) scale(1.050,1.000)" font-size="15.5" font-weight="bold" text-anchor="end" fill="#000">6</text>
<text transform="translate(659.40,62.45) scale(1.050,1.000)" font-size="15.5" font-weight="bold" text-anchor="end" fill="#000">4</text>
<text transform="translate(659.40,81.89) scale(1.050,1.000)" font-size="15.5" font-weight="bold" text-anchor="end" fill="#000">2</text>
<text transform="translate(659.40,101.34) scale(1.050,1.000)" font-size="15.5" font-weight="bold" text-anchor="end" fill="#000">0</text>
<text transform="translate(659.40,120.78) scale(1.050,1.000)" font-size="15.5" font-weight="bold" text-anchor="end" fill="#000">-2</text>
<text transform="translate(659.40,140.23) scale(1.050,1.000)" font-size="15.5" font-weight="bold" text-anchor="end" fill="#000">-4</text>
<text transform="translate(659.40,159.68) scale(1.050,1.000)" font-size="15.5" font-weight="bold" text-anchor="end" fill="#000">-6</text>
<text transform="translate(659.40,179.12) scale(1.050,1.000)" font-size="15.5" font-weight="bold" text-anchor="end" fill="#000">-8</text>
<text transform="translate(659.40,198.57) scale(1.050,1.000)" font-size="15.5" font-weight="bold" text-anchor="end" fill="#000">-10</text>
<text transform="translate(659.40,218.01) scale(1.050,1.000)" font-size="15.5" font-weight="bold" text-anchor="end" fill="#000">-12</text>
<text transform="translate(659.40,237.46) scale(1.050,1.000)" font-size="15.5" font-weight="bold" text-anchor="end" fill="#000">-14</text>
<text transform="translate(659.40,256.90) scale(1.050,1.000)" font-size="15.5" font-weight="bold" text-anchor="end" fill="#000">-16</text>
<text transform="translate(659.40,276.35) scale(1.050,1.000)" font-size="15.5" font-weight="bold" text-anchor="end" fill="#000">-18</text>
<text transform="translate(698.99,289.50) scale(1.060,1.000)" font-size="16" text-anchor="middle" fill="#000">0.0</text>
<text transform="translate(767.17,289.50) scale(1.060,1.000)" font-size="16" text-anchor="middle" fill="#000">0.2</text>
<text transform="translate(835.35,289.50) scale(1.060,1.000)" font-size="16" text-anchor="middle" fill="#000">0.4</text>
<text transform="translate(903.53,289.50) scale(1.060,1.000)" font-size="16" text-anchor="middle" fill="#000">0.6</text>
<text transform="translate(971.71,289.50) scale(1.060,1.000)" font-size="16" text-anchor="middle" fill="#000">0.8</text>
<text transform="translate(835.50,306.60) scale(1.100,1.000)" font-size="15" font-weight="bold" text-anchor="middle" fill="#000">Voltage / V</text>
<text transform="translate(622.20,167.70) rotate(-90) scale(1.020,1.070)" font-size="15" font-weight="bold" text-anchor="middle" fill="#000">Current density / mA·cm<tspan font-size="9.5" font-weight="normal" dy="-7.6">-2</tspan></text>
<text transform="translate(629.40,36.40)" font-size="26.5" font-weight="bold" text-anchor="start" fill="#000">b<tspan font-weight="normal" dx="0.8">)</tspan></text>
<rect x="718.3" y="102.3" width="106.9" height="79" fill="#fff" stroke="#444" stroke-width="1.1"/>
<line x1="723.30" y1="117.20" x2="755.20" y2="117.20" stroke="#000000" stroke-width="3.2" stroke-linecap="round"/>
<rect x="735.47" y="113.57" width="7.25" height="7.25" fill="#000000"/>
<text transform="translate(759.60,121.80) scale(1.100,1.000)" font-size="14" font-weight="bold" text-anchor="start" fill="#000">Device 1</text>
<line x1="723.30" y1="135.43" x2="755.20" y2="135.43" stroke="#ff0000" stroke-width="3.2" stroke-linecap="round"/>
<circle cx="739.10" cy="135.43" r="4.13" fill="#ff0000"/>
<text transform="translate(759.60,140.03) scale(1.100,1.000)" font-size="14" font-weight="bold" text-anchor="start" fill="#000">Device 2</text>
<line x1="723.30" y1="153.66" x2="755.20" y2="153.66" stroke="#0000a0" stroke-width="3.2" stroke-linecap="round"/>
<path d="M739.10,148.20 L743.39,156.39 L734.81,156.39Z" fill="#0000ff"/>
<text transform="translate(759.60,158.26) scale(1.100,1.000)" font-size="14" font-weight="bold" text-anchor="start" fill="#000">Device 3</text>
<line x1="723.30" y1="171.89" x2="755.20" y2="171.89" stroke="#ff0080" stroke-width="3.2" stroke-linecap="round"/>
<path d="M739.10,177.35 L743.39,169.16 L734.81,169.16Z" fill="#ff00ff"/>
<text transform="translate(759.60,176.49) scale(1.100,1.000)" font-size="14" font-weight="bold" text-anchor="start" fill="#000">Device 4</text>
<clipPath id="cc"><rect x="47.35" y="365.30" width="357.65" height="266.60"/></clipPath>
<g clip-path="url(#cc)">
<path d="M47.35,609.80 C54.49,592.09 61.64,574.38 68.78,555.74 C75.92,537.09 83.06,517.52 90.21,506.16 C97.35,494.79 104.49,491.63 111.64,493.45 C118.78,495.26 125.92,502.06 133.07,503.96 C140.21,505.86 147.35,502.87 154.50,500.51 C161.64,498.14 168.78,496.41 175.92,495.49 C183.07,494.57 190.21,494.46 197.35,492.98 C204.50,491.49 211.64,488.63 218.78,486.39 C225.92,484.14 233.07,482.50 240.21,481.24 C247.35,479.98 254.50,479.09 261.64,478.54 C268.78,478.00 275.93,477.79 283.07,478.13 C290.21,478.47 297.35,479.36 304.50,479.17 C308.07,479.08 311.64,478.71 315.21,478.70 C318.78,478.68 322.36,479.01 325.93,482.68 C333.07,490.03 340.21,510.74 347.36,533.14 C354.50,555.54 361.64,579.63 368.79,592.64 C375.93,605.65 383.07,607.59 390.21,609.71 C394.98,611.12 399.74,612.61 404.50,614.10" fill="none" stroke="#000000" stroke-width="2.4" stroke-linejoin="round" stroke-linecap="round"/>
<rect x="42.51" y="604.97" width="9.67" height="9.67" fill="#000000"/>
<rect x="63.94" y="550.90" width="9.67" height="9.67" fill="#000000"/>
<rect x="85.37" y="501.32" width="9.67" height="9.67" fill="#000000"/>
<rect x="106.80" y="488.61" width="9.67" height="9.67" fill="#000000"/>
<rect x="128.23" y="499.12" width="9.67" height="9.67" fill="#000000"/>
<rect x="149.66" y="495.67" width="9.67" height="9.67" fill="#000000"/>
<rect x="171.09" y="490.65" width="9.67" height="9.67" fill="#000000"/>
<rect x="192.52" y="488.14" width="9.67" height="9.67" fill="#000000"/>
<rect x="213.95" y="481.55" width="9.67" height="9.67" fill="#000000"/>
<rect x="235.37" y="476.40" width="9.67" height="9.67" fill="#000000"/>
<rect x="256.80" y="473.71" width="9.67" height="9.67" fill="#000000"/>
<rect x="278.23" y="473.30" width="9.67" height="9.67" fill="#000000"/>
<rect x="299.66" y="474.33" width="9.67" height="9.67" fill="#000000"/>
<rect x="321.09" y="477.85" width="9.67" height="9.67" fill="#000000"/>
<rect x="342.52" y="528.31" width="9.67" height="9.67" fill="#000000"/>
<rect x="363.95" y="587.80" width="9.67" height="9.67" fill="#000000"/>
<rect x="385.38" y="604.87" width="9.67" height="9.67" fill="#000000"/>
<path d="M47.35,609.08 C54.49,584.29 61.64,559.50 68.78,543.94 C75.92,528.37 83.06,522.03 90.21,514.00 C97.35,505.98 104.49,496.27 111.64,494.23 C118.78,492.19 125.92,497.82 133.07,499.88 C140.21,501.94 147.35,500.43 154.50,499.57 C161.64,498.70 168.78,498.49 175.92,498.47 C183.07,498.44 190.21,498.61 197.35,496.59 C204.50,494.56 211.64,490.36 218.78,486.42 C225.92,482.48 233.07,478.81 240.21,475.62 C247.35,472.44 254.50,469.74 261.64,468.41 C268.78,467.07 275.93,467.09 283.07,466.74 C290.21,466.40 297.35,465.70 304.50,466.74 C308.07,467.27 311.64,468.23 315.21,468.97 C318.78,469.72 322.36,470.25 325.93,473.99 C333.07,481.48 340.21,501.83 347.36,524.98 C354.50,548.14 361.64,574.10 368.79,588.69 C375.93,603.27 383.07,606.47 390.21,609.08 C394.98,610.83 399.74,612.31 404.50,613.79" fill="none" stroke="#ff0000" stroke-width="2.4" stroke-linejoin="round" stroke-linecap="round"/>
<circle cx="47.35" cy="609.08" r="5.41" fill="#ff0000"/>
<circle cx="68.78" cy="543.94" r="5.41" fill="#ff0000"/>
<circle cx="90.21" cy="514.00" r="5.41" fill="#ff0000"/>
<circle cx="111.64" cy="494.23" r="5.41" fill="#ff0000"/>
<circle cx="133.07" cy="499.88" r="5.41" fill="#ff0000"/>
<circle cx="154.50" cy="499.57" r="5.41" fill="#ff0000"/>
<circle cx="175.92" cy="498.47" r="5.41" fill="#ff0000"/>
<circle cx="197.35" cy="496.59" r="5.41" fill="#ff0000"/>
<circle cx="218.78" cy="486.42" r="5.41" fill="#ff0000"/>
<circle cx="240.21" cy="475.62" r="5.41" fill="#ff0000"/>
<circle cx="261.64" cy="468.41" r="5.41" fill="#ff0000"/>
<circle cx="283.07" cy="466.74" r="5.41" fill="#ff0000"/>
<circle cx="304.50" cy="466.74" r="5.41" fill="#ff0000"/>
<circle cx="325.93" cy="473.99" r="5.41" fill="#ff0000"/>
<circle cx="347.36" cy="524.98" r="5.41" fill="#ff0000"/>
<circle cx="368.79" cy="588.69" r="5.41" fill="#ff0000"/>
<circle cx="390.21" cy="609.08" r="5.41" fill="#ff0000"/>
<path d="M47.35,606.89 C54.49,586.15 61.64,565.41 68.78,536.91 C75.92,508.41 83.06,472.14 90.21,453.28 C97.35,434.42 104.49,432.97 111.64,438.38 C118.78,443.78 125.92,456.03 133.07,458.87 C140.21,461.70 147.35,455.11 154.50,449.67 C161.64,444.23 168.78,439.94 175.92,437.12 C183.07,434.30 190.21,432.96 197.35,431.63 C204.50,430.30 211.64,428.99 218.78,428.02 C225.92,427.05 233.07,426.41 240.21,427.39 C247.35,428.38 254.50,430.99 261.64,433.04 C268.78,435.09 275.93,436.59 283.07,438.38 C290.21,440.16 297.35,442.23 304.50,443.08 C308.07,443.51 311.64,443.64 315.21,443.08 C318.78,442.53 322.36,441.29 325.93,444.97 C333.07,452.31 340.21,479.28 347.36,508.35 C354.50,537.43 361.64,568.60 368.79,585.55 C375.93,602.49 383.07,605.21 390.21,607.95 C394.98,609.78 399.74,611.63 404.50,613.48" fill="none" stroke="#0000ff" stroke-width="2.4" stroke-linejoin="round" stroke-linecap="round"/>
<path d="M47.35,599.69 L53.85,611.09 L40.85,611.09Z" fill="#0000ff"/>
<path d="M68.78,529.71 L75.28,541.11 L62.28,541.11Z" fill="#0000ff"/>
<path d="M90.21,446.08 L96.71,457.48 L83.71,457.48Z" fill="#0000ff"/>
<path d="M111.64,431.18 L118.14,442.58 L105.14,442.58Z" fill="#0000ff"/>
<path d="M133.07,451.67 L139.57,463.07 L126.57,463.07Z" fill="#0000ff"/>
<path d="M154.50,442.47 L161.00,453.87 L148.00,453.87Z" fill="#0000ff"/>
<path d="M175.92,429.92 L182.42,441.32 L169.42,441.32Z" fill="#0000ff"/>
<path d="M197.35,424.43 L203.85,435.83 L190.85,435.83Z" fill="#0000ff"/>
<path d="M218.78,420.82 L225.28,432.22 L212.28,432.22Z" fill="#0000ff"/>
<path d="M240.21,420.19 L246.71,431.59 L233.71,431.59Z" fill="#0000ff"/>
<path d="M261.64,425.84 L268.14,437.24 L255.14,437.24Z" fill="#0000ff"/>
<path d="M283.07,431.18 L289.57,442.58 L276.57,442.58Z" fill="#0000ff"/>
<path d="M304.50,435.88 L311.00,447.28 L298.00,447.28Z" fill="#0000ff"/>
<path d="M325.93,437.77 L332.43,449.17 L319.43,449.17Z" fill="#0000ff"/>
<path d="M347.36,501.15 L353.86,512.55 L340.86,512.55Z" fill="#0000ff"/>
<path d="M368.79,578.35 L375.29,589.75 L362.29,589.75Z" fill="#0000ff"/>
<path d="M390.21,600.75 L396.71,612.15 L383.71,612.15Z" fill="#0000ff"/>
<path d="M47.35,602.02 C54.49,574.97 61.64,547.92 68.78,522.79 C75.92,497.65 83.06,474.43 90.21,457.52 C97.35,440.60 104.49,430.00 111.64,431.16 C118.78,432.32 125.92,445.25 133.07,449.67 C140.21,454.10 147.35,450.02 154.50,446.69 C161.64,443.36 168.78,440.77 175.92,438.38 C183.07,435.98 190.21,433.76 197.35,430.28 C204.50,426.79 211.64,422.03 218.78,415.47 C225.92,408.90 233.07,400.53 240.21,397.27 C247.35,394.01 254.50,395.86 261.64,396.95 C268.78,398.05 275.93,398.39 283.07,399.46 C290.21,400.54 297.35,402.33 304.50,404.48 C308.07,405.56 311.64,406.72 315.21,407.15 C318.78,407.58 322.36,407.28 325.93,412.02 C333.07,421.49 340.21,451.13 347.36,484.50 C354.50,517.88 361.64,554.99 368.79,575.91 C375.93,596.84 383.07,601.57 390.21,605.47 C394.98,608.07 399.74,610.30 404.50,612.53" fill="none" stroke="#ff00ff" stroke-width="2.4" stroke-linejoin="round" stroke-linecap="round"/>
<path d="M47.35,609.42 L53.85,598.02 L40.85,598.02Z" fill="#ff00ff"/>
<path d="M68.78,530.19 L75.28,518.79 L62.28,518.79Z" fill="#ff00ff"/>
<path d="M90.21,464.92 L96.71,453.52 L83.71,453.52Z" fill="#ff00ff"/>
<path d="M111.64,438.56 L118.14,427.16 L105.14,427.16Z" fill="#ff00ff"/>
<path d="M133.07,457.07 L139.57,445.67 L126.57,445.67Z" fill="#ff00ff"/>
<path d="M154.50,454.09 L161.00,442.69 L148.00,442.69Z" fill="#ff00ff"/>
<path d="M175.92,445.78 L182.42,434.38 L169.42,434.38Z" fill="#ff00ff"/>
<path d="M197.35,437.68 L203.85,426.28 L190.85,426.28Z" fill="#ff00ff"/>
<path d="M218.78,422.87 L225.28,411.47 L212.28,411.47Z" fill="#ff00ff"/>
<path d="M240.21,404.67 L246.71,393.27 L233.71,393.27Z" fill="#ff00ff"/>
<path d="M261.64,404.35 L268.14,392.95 L255.14,392.95Z" fill="#ff00ff"/>
<path d="M283.07,406.86 L289.57,395.46 L276.57,395.46Z" fill="#ff00ff"/>
<path d="M304.50,411.88 L311.00,400.48 L298.00,400.48Z" fill="#ff00ff"/>
<path d="M325.93,419.42 L332.43,408.02 L319.43,408.02Z" fill="#ff00ff"/>
<path d="M347.36,491.90 L353.86,480.50 L340.86,480.50Z" fill="#ff00ff"/>
<path d="M368.79,583.31 L375.29,571.91 L362.29,571.91Z" fill="#ff00ff"/>
<path d="M390.21,612.87 L396.71,601.47 L383.71,601.47Z" fill="#ff00ff"/>
</g>
<line x1="47.35" y1="365.30" x2="405.10" y2="365.30" stroke="#111" stroke-width="1.3" stroke-linecap="butt"/>
<line x1="404.50" y1="365.30" x2="404.50" y2="631.90" stroke="#111" stroke-width="1.3" stroke-linecap="butt"/>
<line x1="47.35" y1="364.70" x2="47.35" y2="632.65" stroke="#111" stroke-width="1.5" stroke-linecap="butt"/>
<line x1="46.60" y1="631.90" x2="405.10" y2="631.90" stroke="#111" stroke-width="1.5" stroke-linecap="butt"/>
<text transform="translate(47.00,619.95)" font-size="11" text-anchor="end" fill="#000">0.0</text>
<text transform="translate(47.00,588.60)" font-size="11" text-anchor="end" fill="#000">0.1</text>
<text transform="translate(47.00,557.25)" font-size="11" text-anchor="end" fill="#000">0.2</text>
<text transform="translate(47.00,525.90)" font-size="11" text-anchor="end" fill="#000">0.3</text>
<text transform="translate(47.00,494.55)" font-size="11" text-anchor="end" fill="#000">0.4</text>
<text transform="translate(47.00,463.20)" font-size="11" text-anchor="end" fill="#000">0.5</text>
<text transform="translate(47.00,431.85)" font-size="11" text-anchor="end" fill="#000">0.6</text>
<text transform="translate(47.00,400.50)" font-size="11" text-anchor="end" fill="#000">0.7</text>
<text transform="translate(47.00,369.15)" font-size="11" text-anchor="end" fill="#000">0.8</text>
<text transform="translate(47.35,641.20)" font-size="11" text-anchor="middle" fill="#000">300</text>
<text transform="translate(118.78,641.20)" font-size="11" text-anchor="middle" fill="#000">400</text>
<text transform="translate(190.21,641.20)" font-size="11" text-anchor="middle" fill="#000">500</text>
<text transform="translate(261.64,641.20)" font-size="11" text-anchor="middle" fill="#000">600</text>
<text transform="translate(333.07,641.20)" font-size="11" text-anchor="middle" fill="#000">700</text>
<text transform="translate(404.50,641.20)" font-size="11" text-anchor="middle" fill="#000">800</text>
<text transform="translate(225.80,666.20)" font-size="16" font-weight="bold" text-anchor="middle" fill="#000">Wavelength(nm)</text>
<text transform="translate(23.40,509.40) rotate(-90)" font-size="16" font-weight="bold" text-anchor="middle" fill="#000">EQE(%)</text>
<text transform="translate(16.50,354.00)" font-size="30" font-weight="bold" text-anchor="start" fill="#000">c<tspan font-weight="normal" dx="0.5">)</tspan></text>
<rect x="160.2" y="520.8" width="106.6" height="78.4" fill="#fff" stroke="#444" stroke-width="1.1"/>
<line x1="170.00" y1="536.10" x2="201.20" y2="536.10" stroke="#000000" stroke-width="1.8" stroke-linecap="butt"/>
<rect x="180.57" y="531.17" width="9.86" height="9.86" fill="#000000"/>
<text transform="translate(204.60,540.90)" font-size="14" font-weight="bold" text-anchor="start" fill="#000">Device 1</text>
<line x1="170.00" y1="554.33" x2="201.20" y2="554.33" stroke="#ff0000" stroke-width="1.8" stroke-linecap="butt"/>
<circle cx="185.50" cy="554.33" r="5.41" fill="#ff0000"/>
<text transform="translate(204.60,559.13)" font-size="14" font-weight="bold" text-anchor="start" fill="#000">Device 2</text>
<line x1="170.00" y1="572.56" x2="201.20" y2="572.56" stroke="#0000ff" stroke-width="1.8" stroke-linecap="butt"/>
<path d="M185.50,565.26 L192.20,576.96 L178.80,576.96Z" fill="#0000ff"/>
<text transform="translate(204.60,577.36)" font-size="14" font-weight="bold" text-anchor="start" fill="#000">Device 3</text>
<line x1="170.00" y1="590.79" x2="201.20" y2="590.79" stroke="#ff00ff" stroke-width="1.8" stroke-linecap="butt"/>
<path d="M185.50,598.49 L192.20,586.79 L178.80,586.79Z" fill="#ff00ff"/>
<text transform="translate(204.60,595.59)" font-size="14" font-weight="bold" text-anchor="start" fill="#000">Device 4</text>
<clipPath id="cd"><rect x="670.55" y="385.80" width="338.35" height="239.75"/></clipPath>
<line x1="838.97" y1="385.80" x2="838.97" y2="625.55" stroke="#000" stroke-width="2.1" stroke-linecap="butt"/>
<line x1="712.66" y1="625.55" x2="712.66" y2="622.15" stroke="#000" stroke-width="1.8" stroke-linecap="butt"/>
<line x1="712.66" y1="385.80" x2="712.66" y2="389.20" stroke="#000" stroke-width="1.8" stroke-linecap="butt"/>
<line x1="754.76" y1="625.55" x2="754.76" y2="619.75" stroke="#000" stroke-width="1.8" stroke-linecap="butt"/>
<line x1="754.76" y1="385.80" x2="754.76" y2="391.60" stroke="#000" stroke-width="1.8" stroke-linecap="butt"/>
<line x1="796.87" y1="625.55" x2="796.87" y2="622.15" stroke="#000" stroke-width="1.8" stroke-linecap="butt"/>
<line x1="796.87" y1="385.80" x2="796.87" y2="389.20" stroke="#000" stroke-width="1.8" stroke-linecap="butt"/>
<line x1="838.97" y1="625.55" x2="838.97" y2="619.75" stroke="#000" stroke-width="1.8" stroke-linecap="butt"/>
<line x1="838.97" y1="385.80" x2="838.97" y2="391.60" stroke="#000" stroke-width="1.8" stroke-linecap="butt"/>
<line x1="881.08" y1="625.55" x2="881.08" y2="622.15" stroke="#000" stroke-width="1.8" stroke-linecap="butt"/>
<line x1="881.08" y1="385.80" x2="881.08" y2="389.20" stroke="#000" stroke-width="1.8" stroke-linecap="butt"/>
<line x1="923.19" y1="625.55" x2="923.19" y2="619.75" stroke="#000" stroke-width="1.8" stroke-linecap="butt"/>
<line x1="923.19" y1="385.80" x2="923.19" y2="391.60" stroke="#000" stroke-width="1.8" stroke-linecap="butt"/>
<line x1="965.29" y1="625.55" x2="965.29" y2="622.15" stroke="#000" stroke-width="1.8" stroke-linecap="butt"/>
<line x1="965.29" y1="385.80" x2="965.29" y2="389.20" stroke="#000" stroke-width="1.8" stroke-linecap="butt"/>
<line x1="670.55" y1="617.53" x2="674.05" y2="617.53" stroke="#000" stroke-width="1.65" stroke-linecap="butt"/>
<line x1="1007.40" y1="617.53" x2="1003.90" y2="617.53" stroke="#000" stroke-width="1.65" stroke-linecap="butt"/>
<line x1="670.55" y1="612.84" x2="674.05" y2="612.84" stroke="#000" stroke-width="1.65" stroke-linecap="butt"/>
<line x1="1007.40" y1="612.84" x2="1003.90" y2="612.84" stroke="#000" stroke-width="1.65" stroke-linecap="butt"/>
<line x1="670.55" y1="609.51" x2="674.05" y2="609.51" stroke="#000" stroke-width="1.65" stroke-linecap="butt"/>
<line x1="1007.40" y1="609.51" x2="1003.90" y2="609.51" stroke="#000" stroke-width="1.65" stroke-linecap="butt"/>
<line x1="670.55" y1="606.93" x2="674.05" y2="606.93" stroke="#000" stroke-width="1.65" stroke-linecap="butt"/>
<line x1="1007.40" y1="606.93" x2="1003.90" y2="606.93" stroke="#000" stroke-width="1.65" stroke-linecap="butt"/>
<line x1="670.55" y1="604.82" x2="674.05" y2="604.82" stroke="#000" stroke-width="1.65" stroke-linecap="butt"/>
<line x1="1007.40" y1="604.82" x2="1003.90" y2="604.82" stroke="#000" stroke-width="1.65" stroke-linecap="butt"/>
<line x1="670.55" y1="603.04" x2="674.05" y2="603.04" stroke="#000" stroke-width="1.65" stroke-linecap="butt"/>
<line x1="1007.40" y1="603.04" x2="1003.90" y2="603.04" stroke="#000" stroke-width="1.65" stroke-linecap="butt"/>
<line x1="670.55" y1="601.49" x2="674.05" y2="601.49" stroke="#000" stroke-width="1.65" stroke-linecap="butt"/>
<line x1="1007.40" y1="601.49" x2="1003.90" y2="601.49" stroke="#000" stroke-width="1.65" stroke-linecap="butt"/>
<line x1="670.55" y1="600.13" x2="674.05" y2="600.13" stroke="#000" stroke-width="1.65" stroke-linecap="butt"/>
<line x1="1007.40" y1="600.13" x2="1003.90" y2="600.13" stroke="#000" stroke-width="1.65" stroke-linecap="butt"/>
<line x1="670.55" y1="598.91" x2="676.15" y2="598.91" stroke="#000" stroke-width="1.8" stroke-linecap="butt"/>
<line x1="1007.40" y1="598.91" x2="1001.80" y2="598.91" stroke="#000" stroke-width="1.8" stroke-linecap="butt"/>
<line x1="670.55" y1="590.89" x2="674.05" y2="590.89" stroke="#000" stroke-width="1.65" stroke-linecap="butt"/>
<line x1="1007.40" y1="590.89" x2="1003.90" y2="590.89" stroke="#000" stroke-width="1.65" stroke-linecap="butt"/>
<line x1="670.55" y1="586.20" x2="674.05" y2="586.20" stroke="#000" stroke-width="1.65" stroke-linecap="butt"/>
<line x1="1007.40" y1="586.20" x2="1003.90" y2="586.20" stroke="#000" stroke-width="1.65" stroke-linecap="butt"/>
<line x1="670.55" y1="582.87" x2="674.05" y2="582.87" stroke="#000" stroke-width="1.65" stroke-linecap="butt"/>
<line x1="1007.40" y1="582.87" x2="1003.90" y2="582.87" stroke="#000" stroke-width="1.65" stroke-linecap="butt"/>
<line x1="670.55" y1="580.29" x2="674.05" y2="580.29" stroke="#000" stroke-width="1.65" stroke-linecap="butt"/>
<line x1="1007.40" y1="580.29" x2="1003.90" y2="580.29" stroke="#000" stroke-width="1.65" stroke-linecap="butt"/>
<line x1="670.55" y1="578.18" x2="674.05" y2="578.18" stroke="#000" stroke-width="1.65" stroke-linecap="butt"/>
<line x1="1007.40" y1="578.18" x2="1003.90" y2="578.18" stroke="#000" stroke-width="1.65" stroke-linecap="butt"/>
<line x1="670.55" y1="576.40" x2="674.05" y2="576.40" stroke="#000" stroke-width="1.65" stroke-linecap="butt"/>
<line x1="1007.40" y1="576.40" x2="1003.90" y2="576.40" stroke="#000" stroke-width="1.65" stroke-linecap="butt"/>
<line x1="670.55" y1="574.85" x2="674.05" y2="574.85" stroke="#000" stroke-width="1.65" stroke-linecap="butt"/>
<line x1="1007.40" y1="574.85" x2="1003.90" y2="574.85" stroke="#000" stroke-width="1.65" stroke-linecap="butt"/>
<line x1="670.55" y1="573.49" x2="674.05" y2="573.49" stroke="#000" stroke-width="1.65" stroke-linecap="butt"/>
<line x1="1007.40" y1="573.49" x2="1003.90" y2="573.49" stroke="#000" stroke-width="1.65" stroke-linecap="butt"/>
<line x1="670.55" y1="572.27" x2="676.15" y2="572.27" stroke="#000" stroke-width="1.8" stroke-linecap="butt"/>
<line x1="1007.40" y1="572.27" x2="1001.80" y2="572.27" stroke="#000" stroke-width="1.8" stroke-linecap="butt"/>
<line x1="670.55" y1="564.25" x2="674.05" y2="564.25" stroke="#000" stroke-width="1.65" stroke-linecap="butt"/>
<line x1="1007.40" y1="564.25" x2="1003.90" y2="564.25" stroke="#000" stroke-width="1.65" stroke-linecap="butt"/>
<line x1="670.55" y1="559.56" x2="674.05" y2="559.56" stroke="#000" stroke-width="1.65" stroke-linecap="butt"/>
<line x1="1007.40" y1="559.56" x2="1003.90" y2="559.56" stroke="#000" stroke-width="1.65" stroke-linecap="butt"/>
<line x1="670.55" y1="556.23" x2="674.05" y2="556.23" stroke="#000" stroke-width="1.65" stroke-linecap="butt"/>
<line x1="1007.40" y1="556.23" x2="1003.90" y2="556.23" stroke="#000" stroke-width="1.65" stroke-linecap="butt"/>
<line x1="670.55" y1="553.65" x2="674.05" y2="553.65" stroke="#000" stroke-width="1.65" stroke-linecap="butt"/>
<line x1="1007.40" y1="553.65" x2="1003.90" y2="553.65" stroke="#000" stroke-width="1.65" stroke-linecap="butt"/>
<line x1="670.55" y1="551.54" x2="674.05" y2="551.54" stroke="#000" stroke-width="1.65" stroke-linecap="butt"/>
<line x1="1007.40" y1="551.54" x2="1003.90" y2="551.54" stroke="#000" stroke-width="1.65" stroke-linecap="butt"/>
<line x1="670.55" y1="549.76" x2="674.05" y2="549.76" stroke="#000" stroke-width="1.65" stroke-linecap="butt"/>
<line x1="1007.40" y1="549.76" x2="1003.90" y2="549.76" stroke="#000" stroke-width="1.65" stroke-linecap="butt"/>
<line x1="670.55" y1="548.21" x2="674.05" y2="548.21" stroke="#000" stroke-width="1.65" stroke-linecap="butt"/>
<line x1="1007.40" y1="548.21" x2="1003.90" y2="548.21" stroke="#000" stroke-width="1.65" stroke-linecap="butt"/>
<line x1="670.55" y1="546.85" x2="674.05" y2="546.85" stroke="#000" stroke-width="1.65" stroke-linecap="butt"/>
<line x1="1007.40" y1="546.85" x2="1003.90" y2="546.85" stroke="#000" stroke-width="1.65" stroke-linecap="butt"/>
<line x1="670.55" y1="545.63" x2="676.15" y2="545.63" stroke="#000" stroke-width="1.8" stroke-linecap="butt"/>
<line x1="1007.40" y1="545.63" x2="1001.80" y2="545.63" stroke="#000" stroke-width="1.8" stroke-linecap="butt"/>
<line x1="670.55" y1="537.61" x2="674.05" y2="537.61" stroke="#000" stroke-width="1.65" stroke-linecap="butt"/>
<line x1="1007.40" y1="537.61" x2="1003.90" y2="537.61" stroke="#000" stroke-width="1.65" stroke-linecap="butt"/>
<line x1="670.55" y1="532.92" x2="674.05" y2="532.92" stroke="#000" stroke-width="1.65" stroke-linecap="butt"/>
<line x1="1007.40" y1="532.92" x2="1003.90" y2="532.92" stroke="#000" stroke-width="1.65" stroke-linecap="butt"/>
<line x1="670.55" y1="529.60" x2="674.05" y2="529.60" stroke="#000" stroke-width="1.65" stroke-linecap="butt"/>
<line x1="1007.40" y1="529.60" x2="1003.90" y2="529.60" stroke="#000" stroke-width="1.65" stroke-linecap="butt"/>
<line x1="670.55" y1="527.01" x2="674.05" y2="527.01" stroke="#000" stroke-width="1.65" stroke-linecap="butt"/>
<line x1="1007.40" y1="527.01" x2="1003.90" y2="527.01" stroke="#000" stroke-width="1.65" stroke-linecap="butt"/>
<line x1="670.55" y1="524.90" x2="674.05" y2="524.90" stroke="#000" stroke-width="1.65" stroke-linecap="butt"/>
<line x1="1007.40" y1="524.90" x2="1003.90" y2="524.90" stroke="#000" stroke-width="1.65" stroke-linecap="butt"/>
<line x1="670.55" y1="523.12" x2="674.05" y2="523.12" stroke="#000" stroke-width="1.65" stroke-linecap="butt"/>
<line x1="1007.40" y1="523.12" x2="1003.90" y2="523.12" stroke="#000" stroke-width="1.65" stroke-linecap="butt"/>
<line x1="670.55" y1="521.58" x2="674.05" y2="521.58" stroke="#000" stroke-width="1.65" stroke-linecap="butt"/>
<line x1="1007.40" y1="521.58" x2="1003.90" y2="521.58" stroke="#000" stroke-width="1.65" stroke-linecap="butt"/>
<line x1="670.55" y1="520.21" x2="674.05" y2="520.21" stroke="#000" stroke-width="1.65" stroke-linecap="butt"/>
<line x1="1007.40" y1="520.21" x2="1003.90" y2="520.21" stroke="#000" stroke-width="1.65" stroke-linecap="butt"/>
<line x1="670.55" y1="518.99" x2="676.15" y2="518.99" stroke="#000" stroke-width="1.8" stroke-linecap="butt"/>
<line x1="1007.40" y1="518.99" x2="1001.80" y2="518.99" stroke="#000" stroke-width="1.8" stroke-linecap="butt"/>
<line x1="670.55" y1="510.98" x2="674.05" y2="510.98" stroke="#000" stroke-width="1.65" stroke-linecap="butt"/>
<line x1="1007.40" y1="510.98" x2="1003.90" y2="510.98" stroke="#000" stroke-width="1.65" stroke-linecap="butt"/>
<line x1="670.55" y1="506.28" x2="674.05" y2="506.28" stroke="#000" stroke-width="1.65" stroke-linecap="butt"/>
<line x1="1007.40" y1="506.28" x2="1003.90" y2="506.28" stroke="#000" stroke-width="1.65" stroke-linecap="butt"/>
<line x1="670.55" y1="502.96" x2="674.05" y2="502.96" stroke="#000" stroke-width="1.65" stroke-linecap="butt"/>
<line x1="1007.40" y1="502.96" x2="1003.90" y2="502.96" stroke="#000" stroke-width="1.65" stroke-linecap="butt"/>
<line x1="670.55" y1="500.37" x2="674.05" y2="500.37" stroke="#000" stroke-width="1.65" stroke-linecap="butt"/>
<line x1="1007.40" y1="500.37" x2="1003.90" y2="500.37" stroke="#000" stroke-width="1.65" stroke-linecap="butt"/>
<line x1="670.55" y1="498.27" x2="674.05" y2="498.27" stroke="#000" stroke-width="1.65" stroke-linecap="butt"/>
<line x1="1007.40" y1="498.27" x2="1003.90" y2="498.27" stroke="#000" stroke-width="1.65" stroke-linecap="butt"/>
<line x1="670.55" y1="496.48" x2="674.05" y2="496.48" stroke="#000" stroke-width="1.65" stroke-linecap="butt"/>
<line x1="1007.40" y1="496.48" x2="1003.90" y2="496.48" stroke="#000" stroke-width="1.65" stroke-linecap="butt"/>
<line x1="670.55" y1="494.94" x2="674.05" y2="494.94" stroke="#000" stroke-width="1.65" stroke-linecap="butt"/>
<line x1="1007.40" y1="494.94" x2="1003.90" y2="494.94" stroke="#000" stroke-width="1.65" stroke-linecap="butt"/>
<line x1="670.55" y1="493.57" x2="674.05" y2="493.57" stroke="#000" stroke-width="1.65" stroke-linecap="butt"/>
<line x1="1007.40" y1="493.57" x2="1003.90" y2="493.57" stroke="#000" stroke-width="1.65" stroke-linecap="butt"/>
<line x1="670.55" y1="492.36" x2="676.15" y2="492.36" stroke="#000" stroke-width="1.8" stroke-linecap="butt"/>
<line x1="1007.40" y1="492.36" x2="1001.80" y2="492.36" stroke="#000" stroke-width="1.8" stroke-linecap="butt"/>
<line x1="670.55" y1="484.34" x2="674.05" y2="484.34" stroke="#000" stroke-width="1.65" stroke-linecap="butt"/>
<line x1="1007.40" y1="484.34" x2="1003.90" y2="484.34" stroke="#000" stroke-width="1.65" stroke-linecap="butt"/>
<line x1="670.55" y1="479.65" x2="674.05" y2="479.65" stroke="#000" stroke-width="1.65" stroke-linecap="butt"/>
<line x1="1007.40" y1="479.65" x2="1003.90" y2="479.65" stroke="#000" stroke-width="1.65" stroke-linecap="butt"/>
<line x1="670.55" y1="476.32" x2="674.05" y2="476.32" stroke="#000" stroke-width="1.65" stroke-linecap="butt"/>
<line x1="1007.40" y1="476.32" x2="1003.90" y2="476.32" stroke="#000" stroke-width="1.65" stroke-linecap="butt"/>
<line x1="670.55" y1="473.74" x2="674.05" y2="473.74" stroke="#000" stroke-width="1.65" stroke-linecap="butt"/>
<line x1="1007.40" y1="473.74" x2="1003.90" y2="473.74" stroke="#000" stroke-width="1.65" stroke-linecap="butt"/>
<line x1="670.55" y1="471.63" x2="674.05" y2="471.63" stroke="#000" stroke-width="1.65" stroke-linecap="butt"/>
<line x1="1007.40" y1="471.63" x2="1003.90" y2="471.63" stroke="#000" stroke-width="1.65" stroke-linecap="butt"/>
<line x1="670.55" y1="469.84" x2="674.05" y2="469.84" stroke="#000" stroke-width="1.65" stroke-linecap="butt"/>
<line x1="1007.40" y1="469.84" x2="1003.90" y2="469.84" stroke="#000" stroke-width="1.65" stroke-linecap="butt"/>
<line x1="670.55" y1="468.30" x2="674.05" y2="468.30" stroke="#000" stroke-width="1.65" stroke-linecap="butt"/>
<line x1="1007.40" y1="468.30" x2="1003.90" y2="468.30" stroke="#000" stroke-width="1.65" stroke-linecap="butt"/>
<line x1="670.55" y1="466.94" x2="674.05" y2="466.94" stroke="#000" stroke-width="1.65" stroke-linecap="butt"/>
<line x1="1007.40" y1="466.94" x2="1003.90" y2="466.94" stroke="#000" stroke-width="1.65" stroke-linecap="butt"/>
<line x1="670.55" y1="465.72" x2="676.15" y2="465.72" stroke="#000" stroke-width="1.8" stroke-linecap="butt"/>
<line x1="1007.40" y1="465.72" x2="1001.80" y2="465.72" stroke="#000" stroke-width="1.8" stroke-linecap="butt"/>
<line x1="670.55" y1="457.70" x2="674.05" y2="457.70" stroke="#000" stroke-width="1.65" stroke-linecap="butt"/>
<line x1="1007.40" y1="457.70" x2="1003.90" y2="457.70" stroke="#000" stroke-width="1.65" stroke-linecap="butt"/>
<line x1="670.55" y1="453.01" x2="674.05" y2="453.01" stroke="#000" stroke-width="1.65" stroke-linecap="butt"/>
<line x1="1007.40" y1="453.01" x2="1003.90" y2="453.01" stroke="#000" stroke-width="1.65" stroke-linecap="butt"/>
<line x1="670.55" y1="449.68" x2="674.05" y2="449.68" stroke="#000" stroke-width="1.65" stroke-linecap="butt"/>
<line x1="1007.40" y1="449.68" x2="1003.90" y2="449.68" stroke="#000" stroke-width="1.65" stroke-linecap="butt"/>
<line x1="670.55" y1="447.10" x2="674.05" y2="447.10" stroke="#000" stroke-width="1.65" stroke-linecap="butt"/>
<line x1="1007.40" y1="447.10" x2="1003.90" y2="447.10" stroke="#000" stroke-width="1.65" stroke-linecap="butt"/>
<line x1="670.55" y1="444.99" x2="674.05" y2="444.99" stroke="#000" stroke-width="1.65" stroke-linecap="butt"/>
<line x1="1007.40" y1="444.99" x2="1003.90" y2="444.99" stroke="#000" stroke-width="1.65" stroke-linecap="butt"/>
<line x1="670.55" y1="443.20" x2="674.05" y2="443.20" stroke="#000" stroke-width="1.65" stroke-linecap="butt"/>
<line x1="1007.40" y1="443.20" x2="1003.90" y2="443.20" stroke="#000" stroke-width="1.65" stroke-linecap="butt"/>
<line x1="670.55" y1="441.66" x2="674.05" y2="441.66" stroke="#000" stroke-width="1.65" stroke-linecap="butt"/>
<line x1="1007.40" y1="441.66" x2="1003.90" y2="441.66" stroke="#000" stroke-width="1.65" stroke-linecap="butt"/>
<line x1="670.55" y1="440.30" x2="674.05" y2="440.30" stroke="#000" stroke-width="1.65" stroke-linecap="butt"/>
<line x1="1007.40" y1="440.30" x2="1003.90" y2="440.30" stroke="#000" stroke-width="1.65" stroke-linecap="butt"/>
<line x1="670.55" y1="439.08" x2="676.15" y2="439.08" stroke="#000" stroke-width="1.8" stroke-linecap="butt"/>
<line x1="1007.40" y1="439.08" x2="1001.80" y2="439.08" stroke="#000" stroke-width="1.8" stroke-linecap="butt"/>
<line x1="670.55" y1="431.06" x2="674.05" y2="431.06" stroke="#000" stroke-width="1.65" stroke-linecap="butt"/>
<line x1="1007.40" y1="431.06" x2="1003.90" y2="431.06" stroke="#000" stroke-width="1.65" stroke-linecap="butt"/>
<line x1="670.55" y1="426.37" x2="674.05" y2="426.37" stroke="#000" stroke-width="1.65" stroke-linecap="butt"/>
<line x1="1007.40" y1="426.37" x2="1003.90" y2="426.37" stroke="#000" stroke-width="1.65" stroke-linecap="butt"/>
<line x1="670.55" y1="423.04" x2="674.05" y2="423.04" stroke="#000" stroke-width="1.65" stroke-linecap="butt"/>
<line x1="1007.40" y1="423.04" x2="1003.90" y2="423.04" stroke="#000" stroke-width="1.65" stroke-linecap="butt"/>
<line x1="670.55" y1="420.46" x2="674.05" y2="420.46" stroke="#000" stroke-width="1.65" stroke-linecap="butt"/>
<line x1="1007.40" y1="420.46" x2="1003.90" y2="420.46" stroke="#000" stroke-width="1.65" stroke-linecap="butt"/>
<line x1="670.55" y1="418.35" x2="674.05" y2="418.35" stroke="#000" stroke-width="1.65" stroke-linecap="butt"/>
<line x1="1007.40" y1="418.35" x2="1003.90" y2="418.35" stroke="#000" stroke-width="1.65" stroke-linecap="butt"/>
<line x1="670.55" y1="416.57" x2="674.05" y2="416.57" stroke="#000" stroke-width="1.65" stroke-linecap="butt"/>
<line x1="1007.40" y1="416.57" x2="1003.90" y2="416.57" stroke="#000" stroke-width="1.65" stroke-linecap="butt"/>
<line x1="670.55" y1="415.02" x2="674.05" y2="415.02" stroke="#000" stroke-width="1.65" stroke-linecap="butt"/>
<line x1="1007.40" y1="415.02" x2="1003.90" y2="415.02" stroke="#000" stroke-width="1.65" stroke-linecap="butt"/>
<line x1="670.55" y1="413.66" x2="674.05" y2="413.66" stroke="#000" stroke-width="1.65" stroke-linecap="butt"/>
<line x1="1007.40" y1="413.66" x2="1003.90" y2="413.66" stroke="#000" stroke-width="1.65" stroke-linecap="butt"/>
<line x1="670.55" y1="412.44" x2="676.15" y2="412.44" stroke="#000" stroke-width="1.8" stroke-linecap="butt"/>
<line x1="1007.40" y1="412.44" x2="1001.80" y2="412.44" stroke="#000" stroke-width="1.8" stroke-linecap="butt"/>
<line x1="670.55" y1="404.42" x2="674.05" y2="404.42" stroke="#000" stroke-width="1.65" stroke-linecap="butt"/>
<line x1="1007.40" y1="404.42" x2="1003.90" y2="404.42" stroke="#000" stroke-width="1.65" stroke-linecap="butt"/>
<line x1="670.55" y1="399.73" x2="674.05" y2="399.73" stroke="#000" stroke-width="1.65" stroke-linecap="butt"/>
<line x1="1007.40" y1="399.73" x2="1003.90" y2="399.73" stroke="#000" stroke-width="1.65" stroke-linecap="butt"/>
<line x1="670.55" y1="396.40" x2="674.05" y2="396.40" stroke="#000" stroke-width="1.65" stroke-linecap="butt"/>
<line x1="1007.40" y1="396.40" x2="1003.90" y2="396.40" stroke="#000" stroke-width="1.65" stroke-linecap="butt"/>
<line x1="670.55" y1="393.82" x2="674.05" y2="393.82" stroke="#000" stroke-width="1.65" stroke-linecap="butt"/>
<line x1="1007.40" y1="393.82" x2="1003.90" y2="393.82" stroke="#000" stroke-width="1.65" stroke-linecap="butt"/>
<line x1="670.55" y1="391.71" x2="674.05" y2="391.71" stroke="#000" stroke-width="1.65" stroke-linecap="butt"/>
<line x1="1007.40" y1="391.71" x2="1003.90" y2="391.71" stroke="#000" stroke-width="1.65" stroke-linecap="butt"/>
<line x1="670.55" y1="389.93" x2="674.05" y2="389.93" stroke="#000" stroke-width="1.65" stroke-linecap="butt"/>
<line x1="1007.40" y1="389.93" x2="1003.90" y2="389.93" stroke="#000" stroke-width="1.65" stroke-linecap="butt"/>
<line x1="670.55" y1="388.38" x2="674.05" y2="388.38" stroke="#000" stroke-width="1.65" stroke-linecap="butt"/>
<line x1="1007.40" y1="388.38" x2="1003.90" y2="388.38" stroke="#000" stroke-width="1.65" stroke-linecap="butt"/>
<line x1="670.55" y1="387.02" x2="674.05" y2="387.02" stroke="#000" stroke-width="1.65" stroke-linecap="butt"/>
<line x1="1007.40" y1="387.02" x2="1003.90" y2="387.02" stroke="#000" stroke-width="1.65" stroke-linecap="butt"/>
<g clip-path="url(#cd)">
<path d="M670.55,519.26 L672.58,519.56 L675.13,519.92 L678.12,520.34 L681.47,520.81 L685.11,521.32 L688.97,521.87 L692.98,522.46 L697.06,523.07 L701.14,523.70 L705.15,524.35 L709.01,525.00 L712.66,525.65 L716.17,526.32 L719.67,527.00 L723.18,527.70 L726.69,528.43 L730.20,529.17 L733.71,529.93 L737.22,530.72 L740.73,531.52 L744.24,532.35 L747.74,533.20 L751.25,534.08 L754.76,534.98 L758.35,535.93 L762.07,536.95 L765.88,538.03 L769.73,539.15 L773.59,540.29 L777.39,541.44 L781.12,542.57 L784.70,543.68 L788.12,544.74 L791.31,545.74 L794.24,546.67 L796.87,547.50 L799.17,548.23 L801.19,548.88 L802.95,549.45 L804.51,549.97 L805.89,550.45 L807.13,550.89 L808.27,551.32 L809.34,551.74 L810.39,552.17 L811.44,552.62 L812.54,553.10 L813.71,553.62 L814.93,554.19 L816.13,554.77 L817.31,555.37 L818.46,555.97 L819.59,556.59 L820.68,557.20 L821.73,557.82 L822.75,558.44 L823.72,559.05 L824.65,559.65 L825.52,560.24 L826.34,560.82 L827.10,561.37 L827.80,561.88 L828.43,562.38 L829.02,562.86 L829.56,563.34 L830.07,563.81 L830.55,564.30 L831.00,564.81 L831.44,565.35 L831.88,565.92 L832.31,566.54 L832.74,567.21 L833.18,567.93 L833.60,568.69 L834.00,569.49 L834.39,570.32 L834.76,571.18 L835.12,572.06 L835.47,572.96 L835.79,573.87 L836.11,574.80 L836.40,575.73 L836.69,576.67 L836.95,577.60 L837.20,578.52 L837.42,579.41 L837.62,580.29 L837.80,581.17 L837.97,582.06 L838.12,582.98 L838.27,583.93 L838.41,584.92 L838.54,585.97 L838.68,587.09 L838.83,588.29 L838.97,589.59 L839.13,591.12 L839.28,592.97 L839.42,595.05 L839.56,597.27 L839.70,599.56 L839.84,601.81 L839.97,603.94 L840.11,605.88 L840.25,607.52 L840.38,608.78 L840.52,609.58 L840.66,609.83 L840.79,609.49 L840.91,608.61 L841.02,607.29 L841.13,605.60 L841.23,603.62 L841.34,601.43 L841.46,599.10 L841.59,596.72 L841.74,594.37 L841.92,592.12 L842.11,590.06 L842.34,588.26 L842.59,586.62 L842.85,584.99 L843.12,583.38 L843.41,581.79 L843.71,580.23 L844.04,578.70 L844.39,577.20 L844.76,575.75 L845.16,574.33 L845.59,572.97 L846.05,571.66 L846.55,570.41 L847.10,569.21 L847.70,568.06 L848.33,566.95 L849.01,565.89 L849.71,564.87 L850.43,563.90 L851.16,562.97 L851.91,562.08 L852.65,561.24 L853.38,560.43 L854.11,559.67 L854.81,558.95 L855.49,558.29 L856.18,557.71 L856.87,557.18 L857.55,556.71 L858.24,556.29 L858.92,555.89 L859.61,555.52 L860.30,555.15 L860.98,554.79 L861.67,554.43 L862.37,554.04 L863.06,553.62 L863.76,553.19 L864.46,552.74 L865.16,552.28 L865.86,551.83 L866.57,551.38 L867.27,550.93 L867.98,550.49 L868.68,550.06 L869.38,549.65 L870.09,549.27 L870.78,548.90 L871.48,548.56 L872.17,548.26 L872.85,547.97 L873.53,547.72 L874.21,547.48 L874.88,547.26 L875.55,547.05 L876.23,546.85 L876.91,546.66 L877.60,546.47 L878.30,546.29 L879.01,546.10 L879.73,545.90 L880.47,545.71 L881.23,545.52 L882.00,545.34 L882.78,545.17 L883.56,545.00 L884.36,544.83 L885.15,544.67 L885.93,544.50 L886.72,544.33 L887.49,544.15 L888.25,543.96 L889.00,543.77 L889.73,543.56 L890.45,543.35 L891.17,543.13 L891.87,542.91 L892.57,542.68 L893.27,542.45 L893.96,542.22 L894.66,541.99 L895.34,541.76 L896.03,541.54 L896.73,541.32 L897.42,541.10 L898.11,540.90 L898.79,540.72 L899.47,540.55 L900.15,540.38 L900.83,540.22 L901.50,540.06 L902.18,539.88 L902.86,539.69 L903.55,539.49 L904.25,539.26 L904.95,539.00 L905.67,538.71 L906.40,538.38 L907.15,538.04 L907.90,537.67 L908.67,537.28 L909.44,536.87 L910.21,536.44 L910.98,536.00 L911.75,535.55 L912.52,535.09 L913.28,534.61 L914.03,534.13 L914.77,533.65 L915.49,533.16 L916.21,532.67 L916.92,532.19 L917.62,531.69 L918.32,531.19 L919.02,530.67 L919.71,530.13 L920.41,529.56 L921.10,528.97 L921.79,528.35 L922.49,527.69 L923.19,526.99 L923.89,526.25 L924.58,525.48 L925.28,524.68 L925.97,523.85 L926.66,522.99 L927.36,522.11 L928.05,521.20 L928.75,520.27 L929.46,519.31 L930.17,518.34 L930.88,517.34 L931.61,516.33 L932.35,515.30 L933.10,514.24 L933.85,513.16 L934.62,512.06 L935.39,510.93 L936.17,509.79 L936.94,508.62 L937.71,507.43 L938.47,506.22 L939.23,504.99 L939.97,503.75 L940.70,502.48 L941.42,501.19 L942.12,499.86 L942.81,498.51 L943.49,497.14 L944.17,495.75 L944.84,494.34 L945.51,492.91 L946.19,491.48 L946.87,490.04 L947.55,488.59 L948.25,487.14 L948.96,485.70 L949.68,484.25 L950.41,482.79 L951.16,481.31 L951.91,479.84 L952.66,478.35 L953.42,476.86 L954.18,475.36 L954.93,473.86 L955.68,472.35 L956.43,470.85 L957.16,469.35 L957.88,467.85 L958.59,466.34 L959.29,464.83 L959.98,463.30 L960.67,461.77 L961.34,460.24 L962.02,458.71 L962.70,457.18 L963.37,455.66 L964.05,454.16 L964.74,452.66 L965.43,451.19 L966.14,449.73 L966.85,448.29 L967.57,446.84 L968.30,445.39 L969.04,443.94 L969.77,442.51 L970.51,441.09 L971.26,439.70 L971.99,438.33 L972.73,436.99 L973.46,435.69 L974.18,434.43 L974.89,433.22 L975.60,432.05 L976.29,430.91 L976.98,429.81 L977.67,428.74 L978.35,427.70 L979.03,426.69 L979.71,425.71 L980.39,424.76 L981.07,423.84 L981.76,422.94 L982.45,422.07 L983.15,421.23 L983.85,420.42 L984.56,419.64 L985.28,418.91 L986.00,418.20 L986.72,417.52 L987.44,416.87 L988.16,416.23 L988.89,415.62 L989.60,415.01 L990.32,414.42 L991.03,413.83 L991.74,413.24 L992.44,412.66 L993.13,412.09 L993.82,411.54 L994.51,411.00 L995.20,410.47 L995.88,409.96 L996.57,409.46 L997.25,408.97 L997.93,408.49 L998.62,408.02 L999.30,407.56 L999.99,407.11 L1000.70,406.66 L1001.46,406.21 L1002.25,405.76 L1003.05,405.32 L1003.85,404.88 L1004.63,404.46 L1005.39,404.07 L1006.10,403.70 L1006.76,403.36 L1007.34,403.06 L1007.84,402.80 L1008.24,402.58" fill="none" stroke="#000000" stroke-width="3.3" stroke-linejoin="round" stroke-linecap="round"/>
<rect x="667.76" y="516.47" width="5.58" height="5.58" fill="#000000"/>
<rect x="676.18" y="517.67" width="5.58" height="5.58" fill="#000000"/>
<rect x="684.60" y="518.86" width="5.58" height="5.58" fill="#000000"/>
<rect x="693.02" y="520.09" width="5.58" height="5.58" fill="#000000"/>
<rect x="701.44" y="521.41" width="5.58" height="5.58" fill="#000000"/>
<rect x="709.87" y="522.86" width="5.58" height="5.58" fill="#000000"/>
<rect x="718.29" y="524.49" width="5.58" height="5.58" fill="#000000"/>
<rect x="726.71" y="526.23" width="5.58" height="5.58" fill="#000000"/>
<rect x="735.13" y="528.09" width="5.58" height="5.58" fill="#000000"/>
<rect x="743.55" y="530.07" width="5.58" height="5.58" fill="#000000"/>
<rect x="751.97" y="532.19" width="5.58" height="5.58" fill="#000000"/>
<rect x="760.39" y="534.48" width="5.58" height="5.58" fill="#000000"/>
<rect x="768.82" y="536.92" width="5.58" height="5.58" fill="#000000"/>
<rect x="777.24" y="539.45" width="5.58" height="5.58" fill="#000000"/>
<rect x="785.66" y="542.06" width="5.58" height="5.58" fill="#000000"/>
<rect x="794.08" y="544.71" width="5.58" height="5.58" fill="#000000"/>
<rect x="802.50" y="547.45" width="5.58" height="5.58" fill="#000000"/>
<rect x="810.92" y="550.84" width="5.58" height="5.58" fill="#000000"/>
<rect x="819.34" y="555.27" width="5.58" height="5.58" fill="#000000"/>
<rect x="827.76" y="561.52" width="5.58" height="5.58" fill="#000000"/>
<rect x="836.18" y="586.80" width="5.58" height="5.58" fill="#000000"/>
<rect x="844.61" y="565.85" width="5.58" height="5.58" fill="#000000"/>
<rect x="853.03" y="555.23" width="5.58" height="5.58" fill="#000000"/>
<rect x="861.45" y="550.09" width="5.58" height="5.58" fill="#000000"/>
<rect x="869.87" y="545.26" width="5.58" height="5.58" fill="#000000"/>
<rect x="878.29" y="542.77" width="5.58" height="5.58" fill="#000000"/>
<rect x="886.71" y="540.84" width="5.58" height="5.58" fill="#000000"/>
<rect x="895.13" y="538.17" width="5.58" height="5.58" fill="#000000"/>
<rect x="903.55" y="535.62" width="5.58" height="5.58" fill="#000000"/>
<rect x="911.98" y="530.86" width="5.58" height="5.58" fill="#000000"/>
<rect x="920.40" y="524.20" width="5.58" height="5.58" fill="#000000"/>
<rect x="928.82" y="513.54" width="5.58" height="5.58" fill="#000000"/>
<rect x="937.24" y="500.86" width="5.58" height="5.58" fill="#000000"/>
<rect x="945.66" y="483.94" width="5.58" height="5.58" fill="#000000"/>
<rect x="954.08" y="467.15" width="5.58" height="5.58" fill="#000000"/>
<rect x="962.50" y="448.69" width="5.58" height="5.58" fill="#000000"/>
<rect x="970.92" y="432.45" width="5.58" height="5.58" fill="#000000"/>
<rect x="979.35" y="419.68" width="5.58" height="5.58" fill="#000000"/>
<rect x="987.77" y="411.43" width="5.58" height="5.58" fill="#000000"/>
<rect x="996.19" y="404.99" width="5.58" height="5.58" fill="#000000"/>
<rect x="1004.61" y="400.24" width="5.58" height="5.58" fill="#000000"/>
<path d="M670.55,522.46 L672.58,522.75 L675.13,523.11 L678.12,523.52 L681.47,523.98 L685.11,524.49 L688.97,525.03 L692.98,525.60 L697.06,526.20 L701.14,526.82 L705.15,527.45 L709.01,528.08 L712.66,528.72 L716.17,529.36 L719.67,530.00 L723.18,530.67 L726.69,531.35 L730.20,532.04 L733.71,532.76 L737.22,533.51 L740.73,534.27 L744.24,535.07 L747.74,535.89 L751.25,536.75 L754.76,537.64 L758.35,538.60 L762.07,539.64 L765.88,540.75 L769.73,541.90 L773.59,543.08 L777.39,544.27 L781.12,545.45 L784.70,546.60 L788.12,547.71 L791.31,548.75 L794.24,549.71 L796.87,550.56 L799.17,551.31 L801.19,551.97 L802.95,552.55 L804.51,553.07 L805.89,553.54 L807.13,553.98 L808.27,554.41 L809.34,554.83 L810.39,555.27 L811.44,555.74 L812.54,556.25 L813.71,556.82 L814.93,557.44 L816.13,558.09 L817.31,558.77 L818.46,559.47 L819.59,560.17 L820.68,560.89 L821.73,561.61 L822.75,562.33 L823.72,563.04 L824.65,563.74 L825.52,564.42 L826.34,565.08 L827.10,565.71 L827.80,566.30 L828.43,566.87 L829.02,567.43 L829.56,567.98 L830.07,568.53 L830.55,569.08 L831.00,569.66 L831.44,570.26 L831.88,570.89 L832.31,571.55 L832.74,572.27 L833.18,573.04 L833.60,573.86 L834.00,574.72 L834.39,575.62 L834.76,576.53 L835.12,577.47 L835.47,578.41 L835.79,579.35 L836.11,580.28 L836.40,581.19 L836.69,582.08 L836.95,582.93 L837.20,583.74 L837.42,584.53 L837.61,585.30 L837.79,586.06 L837.95,586.80 L838.10,587.54 L838.24,588.28 L838.38,589.03 L838.52,589.80 L838.66,590.59 L838.81,591.40 L838.97,592.25 L839.14,593.22 L839.31,594.35 L839.48,595.60 L839.64,596.91 L839.81,598.24 L839.98,599.53 L840.14,600.73 L840.31,601.80 L840.48,602.68 L840.65,603.33 L840.82,603.69 L841.00,603.71 L841.17,603.36 L841.34,602.68 L841.50,601.72 L841.67,600.53 L841.84,599.15 L842.01,597.63 L842.18,596.02 L842.36,594.36 L842.55,592.71 L842.75,591.11 L842.96,589.61 L843.19,588.26 L843.41,586.98 L843.62,585.70 L843.83,584.41 L844.04,583.12 L844.26,581.83 L844.49,580.55 L844.74,579.28 L845.03,578.03 L845.34,576.81 L845.70,575.62 L846.10,574.46 L846.55,573.34 L847.07,572.24 L847.64,571.16 L848.26,570.09 L848.92,569.05 L849.62,568.02 L850.34,567.03 L851.09,566.07 L851.84,565.14 L852.59,564.25 L853.35,563.41 L854.09,562.62 L854.81,561.88 L855.52,561.21 L856.24,560.60 L856.97,560.05 L857.70,559.55 L858.44,559.10 L859.18,558.67 L859.91,558.27 L860.65,557.88 L861.39,557.49 L862.12,557.11 L862.85,556.71 L863.57,556.29 L864.28,555.86 L864.98,555.42 L865.69,554.99 L866.38,554.56 L867.08,554.14 L867.78,553.72 L868.47,553.32 L869.17,552.92 L869.87,552.54 L870.57,552.18 L871.27,551.83 L871.99,551.49 L872.71,551.18 L873.43,550.89 L874.16,550.62 L874.90,550.37 L875.64,550.13 L876.38,549.90 L877.11,549.67 L877.85,549.45 L878.58,549.23 L879.31,549.01 L880.03,548.79 L880.74,548.56 L881.45,548.33 L882.14,548.10 L882.83,547.88 L883.51,547.66 L884.19,547.43 L884.87,547.22 L885.55,547.00 L886.23,546.78 L886.91,546.56 L887.60,546.34 L888.29,546.12 L889.00,545.90 L889.71,545.68 L890.43,545.46 L891.15,545.25 L891.87,545.04 L892.60,544.83 L893.33,544.62 L894.07,544.40 L894.80,544.18 L895.54,543.96 L896.28,543.73 L897.02,543.49 L897.76,543.24 L898.50,542.98 L899.24,542.73 L899.99,542.48 L900.74,542.22 L901.50,541.96 L902.25,541.69 L903.00,541.41 L903.75,541.11 L904.49,540.81 L905.23,540.48 L905.96,540.14 L906.68,539.77 L907.39,539.39 L908.09,538.98 L908.78,538.56 L909.46,538.12 L910.14,537.66 L910.82,537.19 L911.49,536.71 L912.17,536.22 L912.85,535.72 L913.54,535.21 L914.23,534.70 L914.93,534.18 L915.65,533.66 L916.37,533.15 L917.10,532.64 L917.84,532.13 L918.57,531.60 L919.31,531.07 L920.05,530.51 L920.79,529.93 L921.53,529.31 L922.26,528.67 L922.98,527.98 L923.69,527.25 L924.40,526.48 L925.10,525.67 L925.79,524.82 L926.47,523.95 L927.16,523.04 L927.84,522.11 L928.52,521.15 L929.20,520.17 L929.88,519.17 L930.57,518.15 L931.25,517.11 L931.95,516.06 L932.64,515.00 L933.34,513.91 L934.04,512.80 L934.75,511.67 L935.45,510.52 L936.16,509.35 L936.86,508.17 L937.57,506.96 L938.27,505.73 L938.97,504.49 L939.67,503.22 L940.37,501.95 L941.06,500.64 L941.74,499.31 L942.43,497.96 L943.11,496.59 L943.78,495.20 L944.46,493.79 L945.14,492.37 L945.83,490.93 L946.51,489.50 L947.21,488.05 L947.91,486.61 L948.62,485.16 L949.34,483.71 L950.08,482.25 L950.82,480.78 L951.57,479.30 L952.33,477.82 L953.08,476.32 L953.84,474.82 L954.60,473.32 L955.35,471.82 L956.09,470.32 L956.82,468.82 L957.55,467.31 L958.26,465.81 L958.95,464.29 L959.64,462.77 L960.33,461.24 L961.01,459.71 L961.68,458.17 L962.36,456.65 L963.04,455.13 L963.72,453.62 L964.40,452.13 L965.10,450.65 L965.80,449.20 L966.51,447.75 L967.24,446.30 L967.96,444.85 L968.70,443.41 L969.44,441.98 L970.18,440.56 L970.92,439.16 L971.66,437.80 L972.39,436.46 L973.12,435.16 L973.84,433.90 L974.56,432.68 L975.26,431.51 L975.96,430.38 L976.65,429.28 L977.33,428.21 L978.01,427.17 L978.69,426.16 L979.37,425.18 L980.05,424.23 L980.73,423.31 L981.42,422.41 L982.11,421.54 L982.81,420.70 L983.52,419.89 L984.23,419.11 L984.94,418.37 L985.66,417.67 L986.38,416.99 L987.10,416.33 L987.83,415.70 L988.55,415.08 L989.27,414.48 L989.98,413.88 L990.69,413.29 L991.40,412.71 L992.10,412.12 L992.79,411.56 L993.49,411.00 L994.18,410.47 L994.86,409.94 L995.55,409.43 L996.23,408.92 L996.91,408.43 L997.60,407.95 L998.28,407.49 L998.97,407.03 L999.65,406.58 L1000.37,406.13 L1001.12,405.68 L1001.91,405.23 L1002.71,404.78 L1003.51,404.35 L1004.29,403.93 L1005.05,403.53 L1005.77,403.16 L1006.42,402.83 L1007.01,402.52 L1007.51,402.26 L1007.91,402.05" fill="none" stroke="#ff0000" stroke-width="3.3" stroke-linejoin="round" stroke-linecap="round"/>
<circle cx="670.55" cy="522.46" r="3.45" fill="#ff0000"/>
<circle cx="678.97" cy="523.64" r="3.45" fill="#ff0000"/>
<circle cx="687.39" cy="524.81" r="3.45" fill="#ff0000"/>
<circle cx="695.81" cy="526.02" r="3.45" fill="#ff0000"/>
<circle cx="704.23" cy="527.30" r="3.45" fill="#ff0000"/>
<circle cx="712.66" cy="528.72" r="3.45" fill="#ff0000"/>
<circle cx="721.08" cy="530.27" r="3.45" fill="#ff0000"/>
<circle cx="729.50" cy="531.91" r="3.45" fill="#ff0000"/>
<circle cx="737.92" cy="533.66" r="3.45" fill="#ff0000"/>
<circle cx="746.34" cy="535.56" r="3.45" fill="#ff0000"/>
<circle cx="754.76" cy="537.64" r="3.45" fill="#ff0000"/>
<circle cx="763.18" cy="539.96" r="3.45" fill="#ff0000"/>
<circle cx="771.61" cy="542.47" r="3.45" fill="#ff0000"/>
<circle cx="780.03" cy="545.10" r="3.45" fill="#ff0000"/>
<circle cx="788.45" cy="547.81" r="3.45" fill="#ff0000"/>
<circle cx="796.87" cy="550.56" r="3.45" fill="#ff0000"/>
<circle cx="805.29" cy="553.33" r="3.45" fill="#ff0000"/>
<circle cx="813.71" cy="556.82" r="3.45" fill="#ff0000"/>
<circle cx="822.13" cy="561.89" r="3.45" fill="#ff0000"/>
<circle cx="830.55" cy="569.09" r="3.45" fill="#ff0000"/>
<circle cx="838.97" cy="592.25" r="3.45" fill="#ff0000"/>
<circle cx="847.40" cy="571.62" r="3.45" fill="#ff0000"/>
<circle cx="855.82" cy="560.96" r="3.45" fill="#ff0000"/>
<circle cx="864.24" cy="555.88" r="3.45" fill="#ff0000"/>
<circle cx="872.66" cy="551.20" r="3.45" fill="#ff0000"/>
<circle cx="881.08" cy="548.45" r="3.45" fill="#ff0000"/>
<circle cx="889.50" cy="545.74" r="3.45" fill="#ff0000"/>
<circle cx="897.92" cy="543.18" r="3.45" fill="#ff0000"/>
<circle cx="906.34" cy="539.94" r="3.45" fill="#ff0000"/>
<circle cx="914.77" cy="534.30" r="3.45" fill="#ff0000"/>
<circle cx="923.19" cy="527.77" r="3.45" fill="#ff0000"/>
<circle cx="931.61" cy="516.57" r="3.45" fill="#ff0000"/>
<circle cx="940.03" cy="502.56" r="3.45" fill="#ff0000"/>
<circle cx="948.45" cy="485.51" r="3.45" fill="#ff0000"/>
<circle cx="956.87" cy="468.71" r="3.45" fill="#ff0000"/>
<circle cx="965.29" cy="450.25" r="3.45" fill="#ff0000"/>
<circle cx="973.71" cy="434.12" r="3.45" fill="#ff0000"/>
<circle cx="982.14" cy="421.51" r="3.45" fill="#ff0000"/>
<circle cx="990.56" cy="413.41" r="3.45" fill="#ff0000"/>
<circle cx="998.98" cy="407.02" r="3.45" fill="#ff0000"/>
<circle cx="1007.40" cy="402.32" r="3.45" fill="#ff0000"/>
<path d="M670.55,528.72 L672.58,529.01 L675.13,529.37 L678.12,529.78 L681.47,530.24 L685.11,530.75 L688.97,531.29 L692.98,531.86 L697.06,532.46 L701.14,533.08 L705.15,533.71 L709.01,534.34 L712.66,534.98 L716.17,535.62 L719.67,536.27 L723.18,536.94 L726.69,537.63 L730.20,538.33 L733.71,539.06 L737.22,539.80 L740.73,540.57 L744.24,541.36 L747.74,542.18 L751.25,543.03 L754.76,543.90 L758.35,544.83 L762.07,545.83 L765.88,546.89 L769.73,547.99 L773.59,549.11 L777.39,550.24 L781.12,551.36 L784.70,552.46 L788.12,553.51 L791.31,554.52 L794.24,555.45 L796.87,556.29 L799.17,557.04 L801.19,557.70 L802.95,558.29 L804.51,558.83 L805.89,559.33 L807.13,559.81 L808.27,560.27 L809.34,560.74 L810.39,561.23 L811.44,561.75 L812.54,562.32 L813.71,562.95 L814.93,563.64 L816.13,564.37 L817.31,565.14 L818.46,565.93 L819.59,566.74 L820.68,567.56 L821.73,568.38 L822.75,569.20 L823.72,570.01 L824.65,570.80 L825.52,571.55 L826.34,572.27 L827.10,572.96 L827.80,573.61 L828.43,574.24 L829.02,574.86 L829.56,575.46 L830.07,576.05 L830.55,576.64 L831.00,577.23 L831.44,577.84 L831.88,578.45 L832.31,579.08 L832.74,579.73 L833.18,580.42 L833.59,581.14 L833.99,581.89 L834.38,582.66 L834.75,583.44 L835.10,584.21 L835.44,584.97 L835.77,585.71 L836.08,586.42 L836.38,587.08 L836.67,587.70 L836.95,588.26 L837.22,588.72 L837.46,589.09 L837.68,589.39 L837.89,589.63 L838.08,589.84 L838.27,590.04 L838.45,590.25 L838.62,590.50 L838.79,590.80 L838.96,591.18 L839.13,591.65 L839.31,592.25 L839.49,593.04 L839.66,594.05 L839.83,595.22 L839.99,596.49 L840.14,597.83 L840.30,599.16 L840.46,600.44 L840.62,601.62 L840.79,602.65 L840.96,603.46 L841.14,604.01 L841.33,604.24 L841.53,604.14 L841.72,603.77 L841.92,603.17 L842.11,602.36 L842.31,601.40 L842.52,600.33 L842.74,599.17 L842.97,597.97 L843.21,596.78 L843.46,595.62 L843.74,594.54 L844.03,593.58 L844.33,592.69 L844.63,591.80 L844.94,590.91 L845.26,590.02 L845.60,589.13 L845.94,588.24 L846.31,587.35 L846.70,586.46 L847.12,585.57 L847.57,584.69 L848.05,583.81 L848.58,582.93 L849.14,582.05 L849.76,581.16 L850.41,580.27 L851.10,579.38 L851.82,578.49 L852.55,577.60 L853.30,576.72 L854.06,575.85 L854.81,575.00 L855.56,574.16 L856.29,573.34 L857.00,572.54 L857.69,571.75 L858.38,570.97 L859.07,570.20 L859.76,569.43 L860.45,568.68 L861.13,567.94 L861.82,567.23 L862.50,566.53 L863.19,565.86 L863.88,565.21 L864.56,564.60 L865.25,564.01 L865.94,563.47 L866.62,562.96 L867.31,562.49 L868.00,562.05 L868.69,561.63 L869.38,561.23 L870.06,560.85 L870.75,560.47 L871.44,560.10 L872.13,559.73 L872.81,559.34 L873.50,558.95 L874.19,558.56 L874.88,558.16 L875.56,557.78 L876.25,557.39 L876.93,557.01 L877.62,556.64 L878.30,556.27 L878.99,555.89 L879.68,555.53 L880.37,555.16 L881.06,554.79 L881.75,554.42 L882.45,554.06 L883.15,553.70 L883.85,553.35 L884.56,553.00 L885.26,552.66 L885.97,552.31 L886.67,551.96 L887.38,551.61 L888.08,551.26 L888.78,550.90 L889.48,550.53 L890.18,550.16 L890.87,549.79 L891.56,549.42 L892.24,549.04 L892.92,548.67 L893.60,548.30 L894.28,547.91 L894.96,547.52 L895.65,547.12 L896.33,546.71 L897.03,546.28 L897.72,545.83 L898.43,545.37 L899.14,544.89 L899.86,544.40 L900.59,543.91 L901.32,543.40 L902.06,542.89 L902.80,542.35 L903.54,541.80 L904.27,541.23 L905.01,540.64 L905.74,540.02 L906.47,539.38 L907.19,538.71 L907.90,538.01 L908.61,537.28 L909.31,536.54 L910.01,535.77 L910.70,534.98 L911.40,534.16 L912.09,533.33 L912.79,532.47 L913.49,531.60 L914.19,530.70 L914.90,529.78 L915.61,528.85 L916.33,527.89 L917.05,526.91 L917.79,525.91 L918.52,524.88 L919.26,523.84 L920.00,522.77 L920.74,521.69 L921.47,520.59 L922.20,519.48 L922.93,518.35 L923.65,517.21 L924.37,516.06 L925.07,514.90 L925.77,513.71 L926.47,512.50 L927.16,511.27 L927.85,510.03 L928.53,508.77 L929.22,507.51 L929.90,506.24 L930.58,504.96 L931.26,503.69 L931.94,502.41 L932.62,501.15 L933.30,499.89 L933.97,498.63 L934.65,497.38 L935.32,496.12 L935.99,494.87 L936.66,493.60 L937.33,492.33 L938.00,491.04 L938.67,489.74 L939.35,488.42 L940.02,487.07 L940.70,485.70 L941.38,484.29 L942.06,482.86 L942.74,481.40 L943.42,479.91 L944.10,478.42 L944.79,476.90 L945.47,475.39 L946.16,473.87 L946.85,472.35 L947.55,470.83 L948.25,469.33 L948.96,467.85 L949.67,466.37 L950.39,464.89 L951.11,463.40 L951.84,461.92 L952.58,460.44 L953.31,458.96 L954.05,457.48 L954.79,456.02 L955.53,454.56 L956.26,453.12 L956.99,451.68 L957.71,450.27 L958.44,448.86 L959.17,447.45 L959.91,446.04 L960.64,444.64 L961.37,443.25 L962.10,441.87 L962.83,440.51 L963.55,439.17 L964.26,437.84 L964.95,436.54 L965.64,435.26 L966.30,434.02 L966.95,432.79 L967.57,431.56 L968.17,430.34 L968.76,429.14 L969.34,427.96 L969.91,426.81 L970.49,425.68 L971.07,424.59 L971.66,423.55 L972.27,422.54 L972.89,421.59 L973.55,420.70 L974.22,419.87 L974.92,419.10 L975.64,418.38 L976.37,417.72 L977.11,417.09 L977.86,416.50 L978.61,415.94 L979.37,415.39 L980.12,414.85 L980.86,414.32 L981.59,413.79 L982.30,413.24 L983.01,412.69 L983.70,412.16 L984.39,411.64 L985.07,411.13 L985.75,410.63 L986.43,410.14 L987.11,409.66 L987.79,409.19 L988.47,408.73 L989.16,408.27 L989.85,407.82 L990.56,407.38 L991.27,406.94 L991.99,406.50 L992.72,406.08 L993.45,405.66 L994.19,405.25 L994.93,404.85 L995.66,404.45 L996.40,404.06 L997.14,403.68 L997.87,403.31 L998.60,402.94 L999.32,402.58 L1000.06,402.22 L1000.84,401.86 L1001.64,401.49 L1002.46,401.12 L1003.27,400.76 L1004.07,400.42 L1004.84,400.09 L1005.57,399.78 L1006.23,399.50 L1006.82,399.25 L1007.33,399.03 L1007.74,398.85" fill="none" stroke="#0000a0" stroke-width="1.8" stroke-linejoin="round" stroke-linecap="round"/>
<path d="M670.55,524.38 L673.96,530.89 L667.14,530.89Z" fill="#0000ff"/>
<path d="M678.97,525.56 L682.38,532.07 L675.56,532.07Z" fill="#0000ff"/>
<path d="M687.39,526.73 L690.80,533.24 L683.98,533.24Z" fill="#0000ff"/>
<path d="M695.81,527.94 L699.22,534.45 L692.40,534.45Z" fill="#0000ff"/>
<path d="M704.23,529.22 L707.64,535.73 L700.82,535.73Z" fill="#0000ff"/>
<path d="M712.66,530.64 L716.07,537.15 L709.25,537.15Z" fill="#0000ff"/>
<path d="M721.08,532.20 L724.49,538.71 L717.67,538.71Z" fill="#0000ff"/>
<path d="M729.50,533.85 L732.91,540.36 L726.09,540.36Z" fill="#0000ff"/>
<path d="M737.92,535.62 L741.33,542.13 L734.51,542.13Z" fill="#0000ff"/>
<path d="M746.34,537.52 L749.75,544.03 L742.93,544.03Z" fill="#0000ff"/>
<path d="M754.76,539.56 L758.17,546.07 L751.35,546.07Z" fill="#0000ff"/>
<path d="M763.18,541.80 L766.59,548.31 L759.77,548.31Z" fill="#0000ff"/>
<path d="M771.61,544.19 L775.01,550.70 L768.20,550.70Z" fill="#0000ff"/>
<path d="M780.03,546.69 L783.44,553.20 L776.62,553.20Z" fill="#0000ff"/>
<path d="M788.45,549.28 L791.86,555.79 L785.04,555.79Z" fill="#0000ff"/>
<path d="M796.87,551.95 L800.28,558.46 L793.46,558.46Z" fill="#0000ff"/>
<path d="M805.29,554.78 L808.70,561.29 L801.88,561.29Z" fill="#0000ff"/>
<path d="M813.71,558.61 L817.12,565.12 L810.30,565.12Z" fill="#0000ff"/>
<path d="M822.13,564.37 L825.54,570.88 L818.72,570.88Z" fill="#0000ff"/>
<path d="M830.55,572.31 L833.96,578.82 L827.14,578.82Z" fill="#0000ff"/>
<path d="M838.97,586.88 L842.38,593.39 L835.56,593.39Z" fill="#0000ff"/>
<path d="M847.40,580.69 L850.81,587.20 L843.99,587.20Z" fill="#0000ff"/>
<path d="M855.82,569.53 L859.23,576.04 L852.41,576.04Z" fill="#0000ff"/>
<path d="M864.24,560.55 L867.65,567.06 L860.83,567.06Z" fill="#0000ff"/>
<path d="M872.66,555.09 L876.07,561.60 L869.25,561.60Z" fill="#0000ff"/>
<path d="M881.08,550.44 L884.49,556.95 L877.67,556.95Z" fill="#0000ff"/>
<path d="M889.50,546.18 L892.91,552.69 L886.09,552.69Z" fill="#0000ff"/>
<path d="M897.92,541.36 L901.33,547.87 L894.51,547.87Z" fill="#0000ff"/>
<path d="M906.34,535.15 L909.75,541.66 L902.93,541.66Z" fill="#0000ff"/>
<path d="M914.77,525.61 L918.18,532.12 L911.36,532.12Z" fill="#0000ff"/>
<path d="M923.19,513.61 L926.60,520.12 L919.78,520.12Z" fill="#0000ff"/>
<path d="M931.61,498.69 L935.02,505.20 L928.20,505.20Z" fill="#0000ff"/>
<path d="M940.03,482.72 L943.44,489.23 L936.62,489.23Z" fill="#0000ff"/>
<path d="M948.45,464.57 L951.86,471.08 L945.04,471.08Z" fill="#0000ff"/>
<path d="M956.87,447.57 L960.28,454.08 L953.46,454.08Z" fill="#0000ff"/>
<path d="M965.29,431.56 L968.70,438.07 L961.88,438.07Z" fill="#0000ff"/>
<path d="M973.71,416.15 L977.12,422.66 L970.30,422.66Z" fill="#0000ff"/>
<path d="M982.14,409.03 L985.55,415.54 L978.73,415.54Z" fill="#0000ff"/>
<path d="M990.56,403.04 L993.97,409.55 L987.15,409.55Z" fill="#0000ff"/>
<path d="M998.98,398.41 L1002.39,404.92 L995.57,404.92Z" fill="#0000ff"/>
<path d="M1007.40,394.66 L1010.81,401.17 L1003.99,401.17Z" fill="#0000ff"/>
<path d="M670.55,530.18 L672.58,530.48 L675.13,530.83 L678.12,531.25 L681.47,531.71 L685.11,532.21 L688.97,532.76 L692.98,533.33 L697.06,533.93 L701.14,534.54 L705.15,535.17 L709.01,535.81 L712.66,536.44 L716.17,537.08 L719.67,537.74 L723.18,538.41 L726.69,539.09 L730.20,539.80 L733.71,540.52 L737.22,541.27 L740.73,542.04 L744.24,542.83 L747.74,543.65 L751.25,544.49 L754.76,545.37 L758.35,546.30 L762.07,547.30 L765.88,548.36 L769.73,549.46 L773.59,550.58 L777.39,551.71 L781.12,552.83 L784.70,553.93 L788.12,554.99 L791.31,555.99 L794.24,556.92 L796.87,557.75 L799.17,558.50 L801.19,559.15 L802.95,559.74 L804.51,560.28 L805.89,560.77 L807.13,561.24 L808.27,561.70 L809.34,562.15 L810.39,562.63 L811.44,563.13 L812.54,563.68 L813.71,564.28 L814.93,564.94 L816.13,565.63 L817.31,566.36 L818.46,567.10 L819.59,567.86 L820.68,568.63 L821.73,569.41 L822.75,570.18 L823.72,570.93 L824.65,571.67 L825.52,572.39 L826.34,573.07 L827.10,573.72 L827.80,574.35 L828.43,574.96 L829.02,575.56 L829.56,576.14 L830.07,576.72 L830.55,577.29 L831.00,577.87 L831.44,578.45 L831.88,579.04 L832.31,579.64 L832.74,580.26 L833.18,580.92 L833.59,581.61 L833.99,582.32 L834.38,583.06 L834.75,583.79 L835.10,584.53 L835.44,585.24 L835.77,585.94 L836.08,586.59 L836.38,587.21 L836.67,587.76 L836.95,588.26 L837.22,588.64 L837.46,588.91 L837.68,589.09 L837.89,589.21 L838.08,589.30 L838.27,589.37 L838.45,589.47 L838.62,589.61 L838.79,589.82 L838.96,590.14 L839.13,590.58 L839.31,591.19 L839.49,592.02 L839.67,593.12 L839.84,594.41 L840.00,595.84 L840.17,597.35 L840.33,598.86 L840.50,600.33 L840.66,601.68 L840.82,602.87 L840.99,603.82 L841.16,604.47 L841.33,604.77 L841.50,604.71 L841.67,604.36 L841.83,603.75 L841.98,602.94 L842.14,601.95 L842.30,600.83 L842.47,599.61 L842.65,598.35 L842.84,597.07 L843.05,595.83 L843.27,594.65 L843.52,593.58 L843.78,592.57 L844.04,591.53 L844.30,590.47 L844.58,589.39 L844.86,588.30 L845.16,587.21 L845.49,586.11 L845.84,585.02 L846.21,583.94 L846.63,582.87 L847.07,581.82 L847.56,580.80 L848.10,579.78 L848.69,578.76 L849.33,577.75 L850.00,576.73 L850.70,575.73 L851.42,574.74 L852.15,573.76 L852.90,572.81 L853.64,571.89 L854.38,571.00 L855.11,570.15 L855.82,569.34 L856.51,568.57 L857.21,567.84 L857.91,567.14 L858.61,566.47 L859.31,565.83 L860.01,565.21 L860.71,564.62 L861.41,564.04 L862.12,563.49 L862.82,562.94 L863.53,562.41 L864.24,561.88 L864.95,561.38 L865.66,560.89 L866.37,560.44 L867.09,560.00 L867.81,559.58 L868.52,559.17 L869.24,558.77 L869.96,558.38 L870.68,557.99 L871.39,557.61 L872.11,557.22 L872.83,556.82 L873.55,556.42 L874.26,556.03 L874.98,555.63 L875.70,555.24 L876.42,554.86 L877.14,554.47 L877.86,554.10 L878.58,553.72 L879.29,553.36 L880.01,553.00 L880.71,552.64 L881.42,552.29 L882.12,551.96 L882.81,551.63 L883.49,551.32 L884.18,551.01 L884.86,550.71 L885.53,550.41 L886.21,550.11 L886.90,549.82 L887.58,549.51 L888.27,549.21 L888.97,548.89 L889.67,548.56 L890.38,548.23 L891.11,547.91 L891.84,547.58 L892.57,547.25 L893.31,546.92 L894.05,546.58 L894.79,546.24 L895.53,545.88 L896.26,545.51 L896.99,545.13 L897.72,544.72 L898.43,544.30 L899.13,543.87 L899.83,543.43 L900.53,542.99 L901.22,542.54 L901.90,542.07 L902.59,541.59 L903.27,541.09 L903.95,540.56 L904.63,540.01 L905.31,539.43 L906.00,538.82 L906.68,538.17 L907.37,537.49 L908.05,536.78 L908.73,536.04 L909.41,535.27 L910.09,534.48 L910.78,533.66 L911.46,532.82 L912.15,531.96 L912.84,531.08 L913.53,530.17 L914.23,529.25 L914.93,528.32 L915.65,527.36 L916.37,526.38 L917.10,525.38 L917.84,524.35 L918.57,523.31 L919.31,522.24 L920.05,521.16 L920.79,520.06 L921.53,518.95 L922.26,517.82 L922.98,516.68 L923.69,515.53 L924.40,514.36 L925.10,513.17 L925.80,511.95 L926.49,510.72 L927.18,509.47 L927.87,508.21 L928.56,506.94 L929.24,505.67 L929.92,504.39 L930.60,503.12 L931.27,501.86 L931.95,500.61 L932.62,499.38 L933.28,498.16 L933.94,496.95 L934.60,495.75 L935.25,494.55 L935.90,493.34 L936.56,492.12 L937.21,490.89 L937.87,489.63 L938.53,488.35 L939.19,487.04 L939.86,485.70 L940.54,484.31 L941.21,482.89 L941.89,481.43 L942.57,479.95 L943.25,478.45 L943.94,476.94 L944.62,475.41 L945.31,473.89 L946.01,472.36 L946.71,470.84 L947.41,469.34 L948.11,467.85 L948.83,466.37 L949.55,464.89 L950.27,463.40 L951.00,461.92 L951.74,460.44 L952.47,458.96 L953.21,457.48 L953.95,456.02 L954.68,454.56 L955.42,453.12 L956.15,451.68 L956.87,450.27 L957.60,448.85 L958.32,447.43 L959.04,446.01 L959.76,444.59 L960.48,443.19 L961.20,441.79 L961.92,440.42 L962.63,439.07 L963.34,437.75 L964.05,436.46 L964.76,435.22 L965.46,434.02 L966.16,432.85 L966.85,431.72 L967.54,430.61 L968.22,429.54 L968.90,428.49 L969.58,427.47 L970.26,426.49 L970.94,425.53 L971.62,424.61 L972.31,423.72 L973.01,422.86 L973.71,422.03 L974.43,421.24 L975.15,420.51 L975.88,419.81 L976.62,419.15 L977.35,418.52 L978.09,417.92 L978.83,417.34 L979.57,416.77 L980.31,416.22 L981.04,415.67 L981.76,415.12 L982.47,414.57 L983.18,414.02 L983.87,413.49 L984.56,412.97 L985.24,412.46 L985.92,411.96 L986.60,411.47 L987.28,410.99 L987.96,410.52 L988.64,410.06 L989.33,409.61 L990.02,409.16 L990.73,408.71 L991.44,408.27 L992.16,407.84 L992.89,407.41 L993.62,406.99 L994.36,406.58 L995.09,406.18 L995.83,405.78 L996.57,405.39 L997.31,405.01 L998.04,404.64 L998.76,404.27 L999.48,403.91 L1000.22,403.55 L1001.00,403.19 L1001.81,402.82 L1002.63,402.45 L1003.44,402.10 L1004.24,401.75 L1005.01,401.42 L1005.73,401.11 L1006.40,400.83 L1006.99,400.58 L1007.50,400.36 L1007.91,400.19" fill="none" stroke="#ff0080" stroke-width="3.4" stroke-linejoin="round" stroke-linecap="round"/>
<path d="M670.55,534.94 L674.29,527.80 L666.81,527.80Z" fill="#ff00ff"/>
<path d="M678.97,536.12 L682.71,528.98 L675.23,528.98Z" fill="#ff00ff"/>
<path d="M687.39,537.29 L691.13,530.15 L683.65,530.15Z" fill="#ff00ff"/>
<path d="M695.81,538.50 L699.55,531.36 L692.07,531.36Z" fill="#ff00ff"/>
<path d="M704.23,539.79 L707.97,532.65 L700.49,532.65Z" fill="#ff00ff"/>
<path d="M712.66,541.20 L716.40,534.06 L708.92,534.06Z" fill="#ff00ff"/>
<path d="M721.08,542.76 L724.82,535.62 L717.34,535.62Z" fill="#ff00ff"/>
<path d="M729.50,544.42 L733.24,537.28 L725.76,537.28Z" fill="#ff00ff"/>
<path d="M737.92,546.18 L741.66,539.04 L734.18,539.04Z" fill="#ff00ff"/>
<path d="M746.34,548.08 L750.08,540.94 L742.60,540.94Z" fill="#ff00ff"/>
<path d="M754.76,550.13 L758.50,542.99 L751.02,542.99Z" fill="#ff00ff"/>
<path d="M763.18,552.37 L766.92,545.23 L759.44,545.23Z" fill="#ff00ff"/>
<path d="M771.61,554.76 L775.35,547.62 L767.87,547.62Z" fill="#ff00ff"/>
<path d="M780.03,557.26 L783.77,550.12 L776.29,550.12Z" fill="#ff00ff"/>
<path d="M788.45,559.85 L792.19,552.71 L784.71,552.71Z" fill="#ff00ff"/>
<path d="M796.87,562.51 L800.61,555.37 L793.13,555.37Z" fill="#ff00ff"/>
<path d="M805.29,565.32 L809.03,558.18 L801.55,558.18Z" fill="#ff00ff"/>
<path d="M813.71,569.04 L817.45,561.90 L809.97,561.90Z" fill="#ff00ff"/>
<path d="M822.13,574.47 L825.87,567.33 L818.39,567.33Z" fill="#ff00ff"/>
<path d="M830.55,582.06 L834.29,574.92 L826.81,574.92Z" fill="#ff00ff"/>
<path d="M838.97,594.94 L842.71,587.80 L835.23,587.80Z" fill="#ff00ff"/>
<path d="M847.40,585.91 L851.14,578.77 L843.66,578.77Z" fill="#ff00ff"/>
<path d="M855.82,574.10 L859.56,566.96 L852.08,566.96Z" fill="#ff00ff"/>
<path d="M864.24,566.64 L867.98,559.50 L860.50,559.50Z" fill="#ff00ff"/>
<path d="M872.66,561.67 L876.40,554.53 L868.92,554.53Z" fill="#ff00ff"/>
<path d="M881.08,557.22 L884.82,550.08 L877.34,550.08Z" fill="#ff00ff"/>
<path d="M889.50,553.40 L893.24,546.26 L885.76,546.26Z" fill="#ff00ff"/>
<path d="M897.92,549.36 L901.66,542.22 L894.18,542.22Z" fill="#ff00ff"/>
<path d="M906.34,543.25 L910.08,536.11 L902.60,536.11Z" fill="#ff00ff"/>
<path d="M914.77,533.30 L918.51,526.16 L911.03,526.16Z" fill="#ff00ff"/>
<path d="M923.19,521.11 L926.93,513.97 L919.45,513.97Z" fill="#ff00ff"/>
<path d="M931.61,506.00 L935.35,498.86 L927.87,498.86Z" fill="#ff00ff"/>
<path d="M940.03,490.11 L943.77,482.97 L936.29,482.97Z" fill="#ff00ff"/>
<path d="M948.45,471.91 L952.19,464.77 L944.71,464.77Z" fill="#ff00ff"/>
<path d="M956.87,455.03 L960.61,447.89 L953.13,447.89Z" fill="#ff00ff"/>
<path d="M965.29,439.06 L969.03,431.92 L961.55,431.92Z" fill="#ff00ff"/>
<path d="M973.71,426.79 L977.45,419.65 L969.97,419.65Z" fill="#ff00ff"/>
<path d="M982.14,419.59 L985.88,412.45 L978.40,412.45Z" fill="#ff00ff"/>
<path d="M990.56,413.58 L994.30,406.44 L986.82,406.44Z" fill="#ff00ff"/>
<path d="M998.98,408.93 L1002.72,401.79 L995.24,401.79Z" fill="#ff00ff"/>
<path d="M1007.40,405.16 L1011.14,398.02 L1003.66,398.02Z" fill="#ff00ff"/>
</g>
<line x1="670.55" y1="384.70" x2="670.55" y2="626.65" stroke="#000" stroke-width="2.45" stroke-linecap="butt"/>
<line x1="1007.40" y1="384.70" x2="1007.40" y2="626.65" stroke="#000" stroke-width="2.45" stroke-linecap="butt"/>
<line x1="669.32" y1="385.80" x2="1008.62" y2="385.80" stroke="#000" stroke-width="2.2" stroke-linecap="butt"/>
<line x1="669.32" y1="625.55" x2="1008.62" y2="625.55" stroke="#000" stroke-width="2.2" stroke-linecap="butt"/>
<text transform="translate(664.20,390.70)" font-size="14.8" text-anchor="end" fill="#000">0.01</text>
<text transform="translate(665.30,417.34)" font-size="14.8" text-anchor="end" fill="#000">1E-3</text>
<text transform="translate(665.30,443.98)" font-size="14.8" text-anchor="end" fill="#000">1E-4</text>
<text transform="translate(665.30,470.62)" font-size="14.8" text-anchor="end" fill="#000">1E-5</text>
<text transform="translate(665.30,497.26)" font-size="14.8" text-anchor="end" fill="#000">1E-6</text>
<text transform="translate(665.30,523.89)" font-size="14.8" text-anchor="end" fill="#000">1E-7</text>
<text transform="translate(665.30,550.53)" font-size="14.8" text-anchor="end" fill="#000">1E-8</text>
<text transform="translate(665.30,577.17)" font-size="14.8" text-anchor="end" fill="#000">1E-9</text>
<text transform="translate(665.30,603.81)" font-size="14.8" text-anchor="end" fill="#000">1E-10</text>
<text transform="translate(665.30,630.45)" font-size="14.8" text-anchor="end" fill="#000">1E-11</text>
<text transform="translate(669.85,642.60) scale(1.130,1.000)" font-size="14.5" text-anchor="middle" fill="#000">-1.0</text>
<text transform="translate(754.06,642.60) scale(1.130,1.000)" font-size="14.5" text-anchor="middle" fill="#000">-0.5</text>
<text transform="translate(838.97,642.60) scale(1.130,1.000)" font-size="14.5" text-anchor="middle" fill="#000">0.0</text>
<text transform="translate(923.19,642.60) scale(1.130,1.000)" font-size="14.5" text-anchor="middle" fill="#000">0.5</text>
<text transform="translate(1007.40,642.60) scale(1.130,1.000)" font-size="14.5" text-anchor="middle" fill="#000">1.0</text>
<text transform="translate(843.45,662.50) scale(1.056,1.000)" font-size="15.4" font-weight="bold" text-anchor="middle" fill="#000">Voltage / V</text>
<text transform="translate(611.50,520.10) rotate(-90) scale(1.013,1.030)" font-size="15.5" font-weight="bold" text-anchor="middle" fill="#000">Dark current / mA·cm<tspan font-size="9.5" font-weight="normal" dy="-7.6">-2</tspan></text>
<text transform="translate(623.70,376.20)" font-size="26" font-weight="bold" text-anchor="start" fill="#000">d<tspan dx="1.4">)</tspan></text>
<rect x="712.1" y="400.4" width="113.7" height="84.2" fill="#fff" stroke="#444" stroke-width="1.1"/>
<line x1="717.00" y1="414.20" x2="750.50" y2="414.20" stroke="#000000" stroke-width="3.3" stroke-linecap="round"/>
<rect x="730.91" y="411.41" width="5.58" height="5.58" fill="#000000"/>
<text transform="translate(754.80,419.30) scale(1.092,1.000)" font-size="15" font-weight="bold" text-anchor="start" fill="#000">Device 1</text>
<line x1="717.00" y1="434.15" x2="750.50" y2="434.15" stroke="#ff0000" stroke-width="3.3" stroke-linecap="round"/>
<circle cx="733.70" cy="434.15" r="3.18" fill="#ff0000"/>
<text transform="translate(754.80,439.25) scale(1.092,1.000)" font-size="15" font-weight="bold" text-anchor="start" fill="#000">Device 2</text>
<line x1="717.00" y1="454.10" x2="750.50" y2="454.10" stroke="#0000a0" stroke-width="3.3" stroke-linecap="round"/>
<path d="M733.70,449.48 L737.33,456.41 L730.07,456.41Z" fill="#0000ff"/>
<text transform="translate(754.80,459.20) scale(1.092,1.000)" font-size="15" font-weight="bold" text-anchor="start" fill="#000">Device 3</text>
<line x1="717.00" y1="474.05" x2="750.50" y2="474.05" stroke="#ff0080" stroke-width="3.3" stroke-linecap="round"/>
<path d="M733.70,478.67 L737.33,471.74 L730.07,471.74Z" fill="#ff00ff"/>
<text transform="translate(754.80,479.15) scale(1.092,1.000)" font-size="15" font-weight="bold" text-anchor="start" fill="#000">Device 4</text>
</svg>
</body></html>
